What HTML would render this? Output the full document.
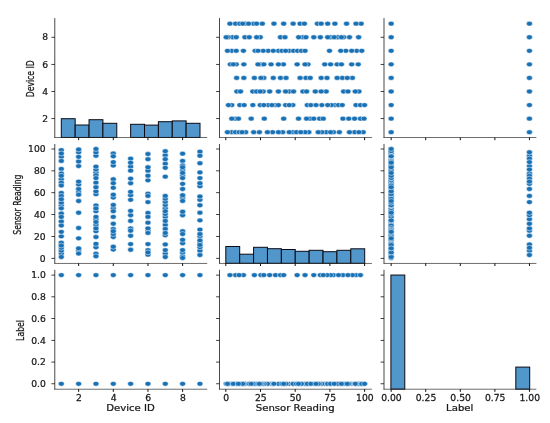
<!DOCTYPE html>
<html><head><meta charset="utf-8"><title>pairplot</title>
<style>html,body{margin:0;padding:0;background:#fff}svg{display:block}text{font-family:"DejaVu Sans","Liberation Sans",sans-serif}</style>
</head><body>
<svg width="550" height="423" viewBox="0 0 550 423">
<rect width="550" height="423" fill="#fff"/>
<g>
<rect x="61.30" y="118.70" width="13.87" height="18.75" fill="#5297cc" stroke="#0a0a14" stroke-width="1"/>
<rect x="75.17" y="125.00" width="13.87" height="12.45" fill="#5297cc" stroke="#0a0a14" stroke-width="1"/>
<rect x="89.04" y="119.70" width="13.87" height="17.75" fill="#5297cc" stroke="#0a0a14" stroke-width="1"/>
<rect x="102.91" y="123.30" width="13.87" height="14.15" fill="#5297cc" stroke="#0a0a14" stroke-width="1"/>
<rect x="130.65" y="124.30" width="13.87" height="13.15" fill="#5297cc" stroke="#0a0a14" stroke-width="1"/>
<rect x="144.52" y="125.10" width="13.87" height="12.35" fill="#5297cc" stroke="#0a0a14" stroke-width="1"/>
<rect x="158.39" y="121.70" width="13.87" height="15.75" fill="#5297cc" stroke="#0a0a14" stroke-width="1"/>
<rect x="172.26" y="120.90" width="13.87" height="16.55" fill="#5297cc" stroke="#0a0a14" stroke-width="1"/>
<rect x="186.13" y="123.30" width="13.87" height="14.15" fill="#5297cc" stroke="#0a0a14" stroke-width="1"/>
<rect x="54.38" y="18.10" width="0.85" height="119.69" fill="#2a2a2a"/>
<rect x="54.38" y="137.11" width="152.83" height="0.68" fill="#2a2a2a"/>
<rect x="78.13" y="137.45" width="1" height="2.7" fill="#111"/>
<rect x="112.79" y="137.45" width="1" height="2.7" fill="#111"/>
<rect x="147.45" y="137.45" width="1" height="2.7" fill="#111"/>
<rect x="182.11" y="137.45" width="1" height="2.7" fill="#111"/>
<rect x="51.40" y="118.23" width="3.4" height="0.8" fill="#111"/>
<rect x="51.40" y="91.10" width="3.4" height="0.8" fill="#111"/>
<rect x="51.40" y="63.96" width="3.4" height="0.8" fill="#111"/>
<rect x="51.40" y="36.83" width="3.4" height="0.8" fill="#111"/>
</g>
<g>
<ellipse cx="275.49" cy="105.07" rx="2.98" ry="2.42" fill="#1870b5" stroke="#fff" stroke-width="0.5"/>
<ellipse cx="289.23" cy="50.80" rx="2.98" ry="2.42" fill="#1870b5" stroke="#fff" stroke-width="0.5"/>
<ellipse cx="252.87" cy="91.50" rx="2.98" ry="2.42" fill="#1870b5" stroke="#fff" stroke-width="0.5"/>
<ellipse cx="351.69" cy="64.36" rx="2.98" ry="2.42" fill="#1870b5" stroke="#fff" stroke-width="0.5"/>
<ellipse cx="230.38" cy="64.36" rx="2.98" ry="2.42" fill="#1870b5" stroke="#fff" stroke-width="0.5"/>
<ellipse cx="363.21" cy="132.20" rx="2.98" ry="2.42" fill="#1870b5" stroke="#fff" stroke-width="0.5"/>
<ellipse cx="232.60" cy="37.23" rx="2.98" ry="2.42" fill="#1870b5" stroke="#fff" stroke-width="0.5"/>
<ellipse cx="302.97" cy="37.23" rx="2.98" ry="2.42" fill="#1870b5" stroke="#fff" stroke-width="0.5"/>
<ellipse cx="272.58" cy="132.20" rx="2.98" ry="2.42" fill="#1870b5" stroke="#fff" stroke-width="0.5"/>
<ellipse cx="326.15" cy="91.50" rx="2.98" ry="2.42" fill="#1870b5" stroke="#fff" stroke-width="0.5"/>
<ellipse cx="285.62" cy="105.07" rx="2.98" ry="2.42" fill="#1870b5" stroke="#fff" stroke-width="0.5"/>
<ellipse cx="268.13" cy="50.80" rx="2.98" ry="2.42" fill="#1870b5" stroke="#fff" stroke-width="0.5"/>
<ellipse cx="356.69" cy="50.80" rx="2.98" ry="2.42" fill="#1870b5" stroke="#fff" stroke-width="0.5"/>
<ellipse cx="253.70" cy="23.66" rx="2.98" ry="2.42" fill="#1870b5" stroke="#fff" stroke-width="0.5"/>
<ellipse cx="300.06" cy="23.66" rx="2.98" ry="2.42" fill="#1870b5" stroke="#fff" stroke-width="0.5"/>
<ellipse cx="337.12" cy="64.36" rx="2.98" ry="2.42" fill="#1870b5" stroke="#fff" stroke-width="0.5"/>
<ellipse cx="260.22" cy="37.23" rx="2.98" ry="2.42" fill="#1870b5" stroke="#fff" stroke-width="0.5"/>
<ellipse cx="293.53" cy="50.80" rx="2.98" ry="2.42" fill="#1870b5" stroke="#fff" stroke-width="0.5"/>
<ellipse cx="358.91" cy="91.50" rx="2.98" ry="2.42" fill="#1870b5" stroke="#fff" stroke-width="0.5"/>
<ellipse cx="302.97" cy="91.50" rx="2.98" ry="2.42" fill="#1870b5" stroke="#fff" stroke-width="0.5"/>
<ellipse cx="231.77" cy="132.20" rx="2.98" ry="2.42" fill="#1870b5" stroke="#fff" stroke-width="0.5"/>
<ellipse cx="358.22" cy="64.36" rx="2.98" ry="2.42" fill="#1870b5" stroke="#fff" stroke-width="0.5"/>
<ellipse cx="326.15" cy="132.20" rx="2.98" ry="2.42" fill="#1870b5" stroke="#fff" stroke-width="0.5"/>
<ellipse cx="354.61" cy="132.20" rx="2.98" ry="2.42" fill="#1870b5" stroke="#fff" stroke-width="0.5"/>
<ellipse cx="346.56" cy="23.66" rx="2.98" ry="2.42" fill="#1870b5" stroke="#fff" stroke-width="0.5"/>
<ellipse cx="243.84" cy="77.93" rx="2.98" ry="2.42" fill="#1870b5" stroke="#fff" stroke-width="0.5"/>
<ellipse cx="317.41" cy="23.66" rx="2.98" ry="2.42" fill="#1870b5" stroke="#fff" stroke-width="0.5"/>
<ellipse cx="243.43" cy="50.80" rx="2.98" ry="2.42" fill="#1870b5" stroke="#fff" stroke-width="0.5"/>
<ellipse cx="268.13" cy="105.07" rx="2.98" ry="2.42" fill="#1870b5" stroke="#fff" stroke-width="0.5"/>
<ellipse cx="306.58" cy="91.50" rx="2.98" ry="2.42" fill="#1870b5" stroke="#fff" stroke-width="0.5"/>
<ellipse cx="342.25" cy="77.93" rx="2.98" ry="2.42" fill="#1870b5" stroke="#fff" stroke-width="0.5"/>
<ellipse cx="345.86" cy="50.80" rx="2.98" ry="2.42" fill="#1870b5" stroke="#fff" stroke-width="0.5"/>
<ellipse cx="305.89" cy="77.93" rx="2.98" ry="2.42" fill="#1870b5" stroke="#fff" stroke-width="0.5"/>
<ellipse cx="315.33" cy="91.50" rx="2.98" ry="2.42" fill="#1870b5" stroke="#fff" stroke-width="0.5"/>
<ellipse cx="298.67" cy="37.23" rx="2.98" ry="2.42" fill="#1870b5" stroke="#fff" stroke-width="0.5"/>
<ellipse cx="260.92" cy="64.36" rx="2.98" ry="2.42" fill="#1870b5" stroke="#fff" stroke-width="0.5"/>
<ellipse cx="310.19" cy="77.93" rx="2.98" ry="2.42" fill="#1870b5" stroke="#fff" stroke-width="0.5"/>
<ellipse cx="228.16" cy="37.23" rx="2.98" ry="2.42" fill="#1870b5" stroke="#fff" stroke-width="0.5"/>
<ellipse cx="280.49" cy="37.23" rx="2.98" ry="2.42" fill="#1870b5" stroke="#fff" stroke-width="0.5"/>
<ellipse cx="321.16" cy="91.50" rx="2.98" ry="2.42" fill="#1870b5" stroke="#fff" stroke-width="0.5"/>
<ellipse cx="360.44" cy="118.63" rx="2.98" ry="2.42" fill="#1870b5" stroke="#fff" stroke-width="0.5"/>
<ellipse cx="289.23" cy="91.50" rx="2.98" ry="2.42" fill="#1870b5" stroke="#fff" stroke-width="0.5"/>
<ellipse cx="340.73" cy="50.80" rx="2.98" ry="2.42" fill="#1870b5" stroke="#fff" stroke-width="0.5"/>
<ellipse cx="339.34" cy="132.20" rx="2.98" ry="2.42" fill="#1870b5" stroke="#fff" stroke-width="0.5"/>
<ellipse cx="292.84" cy="105.07" rx="2.98" ry="2.42" fill="#1870b5" stroke="#fff" stroke-width="0.5"/>
<ellipse cx="342.95" cy="118.63" rx="2.98" ry="2.42" fill="#1870b5" stroke="#fff" stroke-width="0.5"/>
<ellipse cx="235.52" cy="23.66" rx="2.98" ry="2.42" fill="#1870b5" stroke="#fff" stroke-width="0.5"/>
<ellipse cx="361.13" cy="23.66" rx="2.98" ry="2.42" fill="#1870b5" stroke="#fff" stroke-width="0.5"/>
<ellipse cx="324.76" cy="64.36" rx="2.98" ry="2.42" fill="#1870b5" stroke="#fff" stroke-width="0.5"/>
<ellipse cx="260.22" cy="105.07" rx="2.98" ry="2.42" fill="#1870b5" stroke="#fff" stroke-width="0.5"/>
<ellipse cx="263.14" cy="50.80" rx="2.98" ry="2.42" fill="#1870b5" stroke="#fff" stroke-width="0.5"/>
<ellipse cx="254.39" cy="77.93" rx="2.98" ry="2.42" fill="#1870b5" stroke="#fff" stroke-width="0.5"/>
<ellipse cx="226.22" cy="37.23" rx="2.98" ry="2.42" fill="#1870b5" stroke="#fff" stroke-width="0.5"/>
<ellipse cx="321.85" cy="132.20" rx="2.98" ry="2.42" fill="#1870b5" stroke="#fff" stroke-width="0.5"/>
<ellipse cx="236.21" cy="64.36" rx="2.98" ry="2.42" fill="#1870b5" stroke="#fff" stroke-width="0.5"/>
<ellipse cx="307.97" cy="64.36" rx="2.98" ry="2.42" fill="#1870b5" stroke="#fff" stroke-width="0.5"/>
<ellipse cx="245.65" cy="132.20" rx="2.98" ry="2.42" fill="#1870b5" stroke="#fff" stroke-width="0.5"/>
<ellipse cx="256.61" cy="37.23" rx="2.98" ry="2.42" fill="#1870b5" stroke="#fff" stroke-width="0.5"/>
<ellipse cx="235.52" cy="118.63" rx="2.98" ry="2.42" fill="#1870b5" stroke="#fff" stroke-width="0.5"/>
<ellipse cx="289.23" cy="105.07" rx="2.98" ry="2.42" fill="#1870b5" stroke="#fff" stroke-width="0.5"/>
<ellipse cx="231.77" cy="50.80" rx="2.98" ry="2.42" fill="#1870b5" stroke="#fff" stroke-width="0.5"/>
<ellipse cx="231.77" cy="105.07" rx="2.98" ry="2.42" fill="#1870b5" stroke="#fff" stroke-width="0.5"/>
<ellipse cx="271.05" cy="64.36" rx="2.98" ry="2.42" fill="#1870b5" stroke="#fff" stroke-width="0.5"/>
<ellipse cx="334.90" cy="105.07" rx="2.98" ry="2.42" fill="#1870b5" stroke="#fff" stroke-width="0.5"/>
<ellipse cx="228.44" cy="105.07" rx="2.98" ry="2.42" fill="#1870b5" stroke="#fff" stroke-width="0.5"/>
<ellipse cx="280.49" cy="77.93" rx="2.98" ry="2.42" fill="#1870b5" stroke="#fff" stroke-width="0.5"/>
<ellipse cx="227.47" cy="132.20" rx="2.98" ry="2.42" fill="#1870b5" stroke="#fff" stroke-width="0.5"/>
<ellipse cx="282.71" cy="132.20" rx="2.98" ry="2.42" fill="#1870b5" stroke="#fff" stroke-width="0.5"/>
<ellipse cx="331.29" cy="105.07" rx="2.98" ry="2.42" fill="#1870b5" stroke="#fff" stroke-width="0.5"/>
<ellipse cx="297.56" cy="50.80" rx="2.98" ry="2.42" fill="#1870b5" stroke="#fff" stroke-width="0.5"/>
<ellipse cx="271.88" cy="105.07" rx="2.98" ry="2.42" fill="#1870b5" stroke="#fff" stroke-width="0.5"/>
<ellipse cx="239.82" cy="105.07" rx="2.98" ry="2.42" fill="#1870b5" stroke="#fff" stroke-width="0.5"/>
<ellipse cx="334.90" cy="23.66" rx="2.98" ry="2.42" fill="#1870b5" stroke="#fff" stroke-width="0.5"/>
<ellipse cx="236.21" cy="50.80" rx="2.98" ry="2.42" fill="#1870b5" stroke="#fff" stroke-width="0.5"/>
<ellipse cx="235.52" cy="132.20" rx="2.98" ry="2.42" fill="#1870b5" stroke="#fff" stroke-width="0.5"/>
<ellipse cx="358.63" cy="37.23" rx="2.98" ry="2.42" fill="#1870b5" stroke="#fff" stroke-width="0.5"/>
<ellipse cx="333.51" cy="132.20" rx="2.98" ry="2.42" fill="#1870b5" stroke="#fff" stroke-width="0.5"/>
<ellipse cx="278.41" cy="91.50" rx="2.98" ry="2.42" fill="#1870b5" stroke="#fff" stroke-width="0.5"/>
<ellipse cx="349.47" cy="132.20" rx="2.98" ry="2.42" fill="#1870b5" stroke="#fff" stroke-width="0.5"/>
<ellipse cx="308.80" cy="132.20" rx="2.98" ry="2.42" fill="#1870b5" stroke="#fff" stroke-width="0.5"/>
<ellipse cx="263.14" cy="91.50" rx="2.98" ry="2.42" fill="#1870b5" stroke="#fff" stroke-width="0.5"/>
<ellipse cx="292.84" cy="132.20" rx="2.98" ry="2.42" fill="#1870b5" stroke="#fff" stroke-width="0.5"/>
<ellipse cx="244.95" cy="37.23" rx="2.98" ry="2.42" fill="#1870b5" stroke="#fff" stroke-width="0.5"/>
<ellipse cx="263.83" cy="77.93" rx="2.98" ry="2.42" fill="#1870b5" stroke="#fff" stroke-width="0.5"/>
<ellipse cx="310.19" cy="118.63" rx="2.98" ry="2.42" fill="#1870b5" stroke="#fff" stroke-width="0.5"/>
<ellipse cx="283.40" cy="64.36" rx="2.98" ry="2.42" fill="#1870b5" stroke="#fff" stroke-width="0.5"/>
<ellipse cx="304.36" cy="23.66" rx="2.98" ry="2.42" fill="#1870b5" stroke="#fff" stroke-width="0.5"/>
<ellipse cx="355.99" cy="105.07" rx="2.98" ry="2.42" fill="#1870b5" stroke="#fff" stroke-width="0.5"/>
<ellipse cx="229.96" cy="23.66" rx="2.98" ry="2.42" fill="#1870b5" stroke="#fff" stroke-width="0.5"/>
<ellipse cx="337.81" cy="37.23" rx="2.98" ry="2.42" fill="#1870b5" stroke="#fff" stroke-width="0.5"/>
<ellipse cx="245.65" cy="23.66" rx="2.98" ry="2.42" fill="#1870b5" stroke="#fff" stroke-width="0.5"/>
<ellipse cx="284.93" cy="37.23" rx="2.98" ry="2.42" fill="#1870b5" stroke="#fff" stroke-width="0.5"/>
<ellipse cx="351.69" cy="50.80" rx="2.98" ry="2.42" fill="#1870b5" stroke="#fff" stroke-width="0.5"/>
<ellipse cx="320.32" cy="37.23" rx="2.98" ry="2.42" fill="#1870b5" stroke="#fff" stroke-width="0.5"/>
<ellipse cx="243.84" cy="64.36" rx="2.98" ry="2.42" fill="#1870b5" stroke="#fff" stroke-width="0.5"/>
<ellipse cx="349.47" cy="37.23" rx="2.98" ry="2.42" fill="#1870b5" stroke="#fff" stroke-width="0.5"/>
<ellipse cx="278.41" cy="64.36" rx="2.98" ry="2.42" fill="#1870b5" stroke="#fff" stroke-width="0.5"/>
<ellipse cx="273.27" cy="77.93" rx="2.98" ry="2.42" fill="#1870b5" stroke="#fff" stroke-width="0.5"/>
<ellipse cx="255.09" cy="50.80" rx="2.98" ry="2.42" fill="#1870b5" stroke="#fff" stroke-width="0.5"/>
<ellipse cx="236.90" cy="91.50" rx="2.98" ry="2.42" fill="#1870b5" stroke="#fff" stroke-width="0.5"/>
<ellipse cx="321.16" cy="77.93" rx="2.98" ry="2.42" fill="#1870b5" stroke="#fff" stroke-width="0.5"/>
<ellipse cx="305.05" cy="64.36" rx="2.98" ry="2.42" fill="#1870b5" stroke="#fff" stroke-width="0.5"/>
<ellipse cx="267.44" cy="132.20" rx="2.98" ry="2.42" fill="#1870b5" stroke="#fff" stroke-width="0.5"/>
<ellipse cx="248.56" cy="23.66" rx="2.98" ry="2.42" fill="#1870b5" stroke="#fff" stroke-width="0.5"/>
<ellipse cx="306.58" cy="118.63" rx="2.98" ry="2.42" fill="#1870b5" stroke="#fff" stroke-width="0.5"/>
<ellipse cx="278.41" cy="50.80" rx="2.98" ry="2.42" fill="#1870b5" stroke="#fff" stroke-width="0.5"/>
<ellipse cx="307.28" cy="105.07" rx="2.98" ry="2.42" fill="#1870b5" stroke="#fff" stroke-width="0.5"/>
<ellipse cx="252.87" cy="105.07" rx="2.98" ry="2.42" fill="#1870b5" stroke="#fff" stroke-width="0.5"/>
<ellipse cx="330.59" cy="37.23" rx="2.98" ry="2.42" fill="#1870b5" stroke="#fff" stroke-width="0.5"/>
<ellipse cx="239.82" cy="23.66" rx="2.98" ry="2.42" fill="#1870b5" stroke="#fff" stroke-width="0.5"/>
<ellipse cx="355.99" cy="23.66" rx="2.98" ry="2.42" fill="#1870b5" stroke="#fff" stroke-width="0.5"/>
<ellipse cx="273.27" cy="50.80" rx="2.98" ry="2.42" fill="#1870b5" stroke="#fff" stroke-width="0.5"/>
<ellipse cx="278.41" cy="132.20" rx="2.98" ry="2.42" fill="#1870b5" stroke="#fff" stroke-width="0.5"/>
<ellipse cx="352.39" cy="77.93" rx="2.98" ry="2.42" fill="#1870b5" stroke="#fff" stroke-width="0.5"/>
<ellipse cx="227.47" cy="50.80" rx="2.98" ry="2.42" fill="#1870b5" stroke="#fff" stroke-width="0.5"/>
<ellipse cx="293.12" cy="23.66" rx="2.98" ry="2.42" fill="#1870b5" stroke="#fff" stroke-width="0.5"/>
<ellipse cx="343.64" cy="91.50" rx="2.98" ry="2.42" fill="#1870b5" stroke="#fff" stroke-width="0.5"/>
<ellipse cx="338.51" cy="105.07" rx="2.98" ry="2.42" fill="#1870b5" stroke="#fff" stroke-width="0.5"/>
<ellipse cx="264.25" cy="118.63" rx="2.98" ry="2.42" fill="#1870b5" stroke="#fff" stroke-width="0.5"/>
<ellipse cx="329.48" cy="50.80" rx="2.98" ry="2.42" fill="#1870b5" stroke="#fff" stroke-width="0.5"/>
<ellipse cx="262.30" cy="23.66" rx="2.98" ry="2.42" fill="#1870b5" stroke="#fff" stroke-width="0.5"/>
<ellipse cx="321.16" cy="23.66" rx="2.98" ry="2.42" fill="#1870b5" stroke="#fff" stroke-width="0.5"/>
<ellipse cx="327.68" cy="37.23" rx="2.98" ry="2.42" fill="#1870b5" stroke="#fff" stroke-width="0.5"/>
<ellipse cx="342.25" cy="105.07" rx="2.98" ry="2.42" fill="#1870b5" stroke="#fff" stroke-width="0.5"/>
<ellipse cx="263.83" cy="64.36" rx="2.98" ry="2.42" fill="#1870b5" stroke="#fff" stroke-width="0.5"/>
<ellipse cx="256.61" cy="91.50" rx="2.98" ry="2.42" fill="#1870b5" stroke="#fff" stroke-width="0.5"/>
<ellipse cx="330.59" cy="64.36" rx="2.98" ry="2.42" fill="#1870b5" stroke="#fff" stroke-width="0.5"/>
<ellipse cx="282.01" cy="50.80" rx="2.98" ry="2.42" fill="#1870b5" stroke="#fff" stroke-width="0.5"/>
<ellipse cx="249.26" cy="37.23" rx="2.98" ry="2.42" fill="#1870b5" stroke="#fff" stroke-width="0.5"/>
<ellipse cx="341.42" cy="64.36" rx="2.98" ry="2.42" fill="#1870b5" stroke="#fff" stroke-width="0.5"/>
<ellipse cx="343.64" cy="37.23" rx="2.98" ry="2.42" fill="#1870b5" stroke="#fff" stroke-width="0.5"/>
<ellipse cx="258.00" cy="64.36" rx="2.98" ry="2.42" fill="#1870b5" stroke="#fff" stroke-width="0.5"/>
<ellipse cx="313.80" cy="118.63" rx="2.98" ry="2.42" fill="#1870b5" stroke="#fff" stroke-width="0.5"/>
<ellipse cx="236.63" cy="77.93" rx="2.98" ry="2.42" fill="#1870b5" stroke="#fff" stroke-width="0.5"/>
<ellipse cx="239.12" cy="132.20" rx="2.98" ry="2.42" fill="#1870b5" stroke="#fff" stroke-width="0.5"/>
<ellipse cx="240.51" cy="91.50" rx="2.98" ry="2.42" fill="#1870b5" stroke="#fff" stroke-width="0.5"/>
<ellipse cx="260.92" cy="77.93" rx="2.98" ry="2.42" fill="#1870b5" stroke="#fff" stroke-width="0.5"/>
<ellipse cx="326.99" cy="77.93" rx="2.98" ry="2.42" fill="#1870b5" stroke="#fff" stroke-width="0.5"/>
<ellipse cx="263.83" cy="105.07" rx="2.98" ry="2.42" fill="#1870b5" stroke="#fff" stroke-width="0.5"/>
<ellipse cx="260.22" cy="91.50" rx="2.98" ry="2.42" fill="#1870b5" stroke="#fff" stroke-width="0.5"/>
<ellipse cx="319.63" cy="118.63" rx="2.98" ry="2.42" fill="#1870b5" stroke="#fff" stroke-width="0.5"/>
<ellipse cx="285.62" cy="91.50" rx="2.98" ry="2.42" fill="#1870b5" stroke="#fff" stroke-width="0.5"/>
<ellipse cx="296.45" cy="132.20" rx="2.98" ry="2.42" fill="#1870b5" stroke="#fff" stroke-width="0.5"/>
<ellipse cx="285.62" cy="50.80" rx="2.98" ry="2.42" fill="#1870b5" stroke="#fff" stroke-width="0.5"/>
<ellipse cx="244.12" cy="105.07" rx="2.98" ry="2.42" fill="#1870b5" stroke="#fff" stroke-width="0.5"/>
<ellipse cx="231.77" cy="118.63" rx="2.98" ry="2.42" fill="#1870b5" stroke="#fff" stroke-width="0.5"/>
<ellipse cx="273.96" cy="23.66" rx="2.98" ry="2.42" fill="#1870b5" stroke="#fff" stroke-width="0.5"/>
<ellipse cx="236.21" cy="37.23" rx="2.98" ry="2.42" fill="#1870b5" stroke="#fff" stroke-width="0.5"/>
<ellipse cx="286.04" cy="77.93" rx="2.98" ry="2.42" fill="#1870b5" stroke="#fff" stroke-width="0.5"/>
<ellipse cx="313.80" cy="37.23" rx="2.98" ry="2.42" fill="#1870b5" stroke="#fff" stroke-width="0.5"/>
<ellipse cx="293.53" cy="91.50" rx="2.98" ry="2.42" fill="#1870b5" stroke="#fff" stroke-width="0.5"/>
<ellipse cx="360.44" cy="105.07" rx="2.98" ry="2.42" fill="#1870b5" stroke="#fff" stroke-width="0.5"/>
<ellipse cx="253.70" cy="132.20" rx="2.98" ry="2.42" fill="#1870b5" stroke="#fff" stroke-width="0.5"/>
<ellipse cx="269.66" cy="91.50" rx="2.98" ry="2.42" fill="#1870b5" stroke="#fff" stroke-width="0.5"/>
<ellipse cx="364.04" cy="118.63" rx="2.98" ry="2.42" fill="#1870b5" stroke="#fff" stroke-width="0.5"/>
<ellipse cx="251.20" cy="118.63" rx="2.98" ry="2.42" fill="#1870b5" stroke="#fff" stroke-width="0.5"/>
<ellipse cx="259.39" cy="132.20" rx="2.98" ry="2.42" fill="#1870b5" stroke="#fff" stroke-width="0.5"/>
<ellipse cx="233.30" cy="64.36" rx="2.98" ry="2.42" fill="#1870b5" stroke="#fff" stroke-width="0.5"/>
<ellipse cx="256.61" cy="23.66" rx="2.98" ry="2.42" fill="#1870b5" stroke="#fff" stroke-width="0.5"/>
<ellipse cx="297.14" cy="64.36" rx="2.98" ry="2.42" fill="#1870b5" stroke="#fff" stroke-width="0.5"/>
<ellipse cx="283.68" cy="23.66" rx="2.98" ry="2.42" fill="#1870b5" stroke="#fff" stroke-width="0.5"/>
<ellipse cx="358.91" cy="132.20" rx="2.98" ry="2.42" fill="#1870b5" stroke="#fff" stroke-width="0.5"/>
<ellipse cx="341.42" cy="37.23" rx="2.98" ry="2.42" fill="#1870b5" stroke="#fff" stroke-width="0.5"/>
<ellipse cx="318.24" cy="132.20" rx="2.98" ry="2.42" fill="#1870b5" stroke="#fff" stroke-width="0.5"/>
<ellipse cx="305.05" cy="132.20" rx="2.98" ry="2.42" fill="#1870b5" stroke="#fff" stroke-width="0.5"/>
<ellipse cx="337.12" cy="77.93" rx="2.98" ry="2.42" fill="#1870b5" stroke="#fff" stroke-width="0.5"/>
<ellipse cx="278.41" cy="105.07" rx="2.98" ry="2.42" fill="#1870b5" stroke="#fff" stroke-width="0.5"/>
<ellipse cx="242.04" cy="132.20" rx="2.98" ry="2.42" fill="#1870b5" stroke="#fff" stroke-width="0.5"/>
<ellipse cx="348.78" cy="118.63" rx="2.98" ry="2.42" fill="#1870b5" stroke="#fff" stroke-width="0.5"/>
<ellipse cx="289.23" cy="132.20" rx="2.98" ry="2.42" fill="#1870b5" stroke="#fff" stroke-width="0.5"/>
<ellipse cx="334.20" cy="37.23" rx="2.98" ry="2.42" fill="#1870b5" stroke="#fff" stroke-width="0.5"/>
<ellipse cx="354.61" cy="118.63" rx="2.98" ry="2.42" fill="#1870b5" stroke="#fff" stroke-width="0.5"/>
<ellipse cx="347.25" cy="77.93" rx="2.98" ry="2.42" fill="#1870b5" stroke="#fff" stroke-width="0.5"/>
<ellipse cx="330.59" cy="132.20" rx="2.98" ry="2.42" fill="#1870b5" stroke="#fff" stroke-width="0.5"/>
<ellipse cx="321.85" cy="105.07" rx="2.98" ry="2.42" fill="#1870b5" stroke="#fff" stroke-width="0.5"/>
<ellipse cx="310.88" cy="105.07" rx="2.98" ry="2.42" fill="#1870b5" stroke="#fff" stroke-width="0.5"/>
<ellipse cx="300.75" cy="132.20" rx="2.98" ry="2.42" fill="#1870b5" stroke="#fff" stroke-width="0.5"/>
<ellipse cx="258.00" cy="50.80" rx="2.98" ry="2.42" fill="#1870b5" stroke="#fff" stroke-width="0.5"/>
<ellipse cx="301.45" cy="50.80" rx="2.98" ry="2.42" fill="#1870b5" stroke="#fff" stroke-width="0.5"/>
<ellipse cx="327.68" cy="105.07" rx="2.98" ry="2.42" fill="#1870b5" stroke="#fff" stroke-width="0.5"/>
<ellipse cx="361.82" cy="50.80" rx="2.98" ry="2.42" fill="#1870b5" stroke="#fff" stroke-width="0.5"/>
<ellipse cx="347.94" cy="91.50" rx="2.98" ry="2.42" fill="#1870b5" stroke="#fff" stroke-width="0.5"/>
<ellipse cx="242.73" cy="23.66" rx="2.98" ry="2.42" fill="#1870b5" stroke="#fff" stroke-width="0.5"/>
<ellipse cx="298.53" cy="118.63" rx="2.98" ry="2.42" fill="#1870b5" stroke="#fff" stroke-width="0.5"/>
<ellipse cx="327.68" cy="23.66" rx="2.98" ry="2.42" fill="#1870b5" stroke="#fff" stroke-width="0.5"/>
<ellipse cx="364.60" cy="105.07" rx="2.98" ry="2.42" fill="#1870b5" stroke="#fff" stroke-width="0.5"/>
<ellipse cx="323.24" cy="118.63" rx="2.98" ry="2.42" fill="#1870b5" stroke="#fff" stroke-width="0.5"/>
<ellipse cx="355.30" cy="91.50" rx="2.98" ry="2.42" fill="#1870b5" stroke="#fff" stroke-width="0.5"/>
<ellipse cx="283.68" cy="118.63" rx="2.98" ry="2.42" fill="#1870b5" stroke="#fff" stroke-width="0.5"/>
<ellipse cx="300.06" cy="77.93" rx="2.98" ry="2.42" fill="#1870b5" stroke="#fff" stroke-width="0.5"/>
<ellipse cx="305.89" cy="37.23" rx="2.98" ry="2.42" fill="#1870b5" stroke="#fff" stroke-width="0.5"/>
<ellipse cx="316.02" cy="105.07" rx="2.98" ry="2.42" fill="#1870b5" stroke="#fff" stroke-width="0.5"/>
<ellipse cx="238.43" cy="118.63" rx="2.98" ry="2.42" fill="#1870b5" stroke="#fff" stroke-width="0.5"/>
<ellipse cx="305.05" cy="50.80" rx="2.98" ry="2.42" fill="#1870b5" stroke="#fff" stroke-width="0.5"/>
<rect x="219.07" y="18.10" width="0.85" height="119.69" fill="#2a2a2a"/>
<rect x="219.07" y="137.11" width="152.83" height="0.68" fill="#2a2a2a"/>
<rect x="225.30" y="137.45" width="1" height="2.7" fill="#111"/>
<rect x="260.00" y="137.45" width="1" height="2.7" fill="#111"/>
<rect x="294.70" y="137.45" width="1" height="2.7" fill="#111"/>
<rect x="329.40" y="137.45" width="1" height="2.7" fill="#111"/>
<rect x="364.10" y="137.45" width="1" height="2.7" fill="#111"/>
<rect x="216.10" y="118.23" width="3.4" height="0.8" fill="#111"/>
<rect x="216.10" y="91.10" width="3.4" height="0.8" fill="#111"/>
<rect x="216.10" y="63.96" width="3.4" height="0.8" fill="#111"/>
<rect x="216.10" y="36.83" width="3.4" height="0.8" fill="#111"/>
</g>
<g>
<ellipse cx="529.45" cy="105.07" rx="2.98" ry="2.42" fill="#1870b5" stroke="#fff" stroke-width="0.5"/>
<ellipse cx="391.15" cy="50.80" rx="2.98" ry="2.42" fill="#1870b5" stroke="#fff" stroke-width="0.5"/>
<ellipse cx="391.15" cy="91.50" rx="2.98" ry="2.42" fill="#1870b5" stroke="#fff" stroke-width="0.5"/>
<ellipse cx="391.15" cy="64.36" rx="2.98" ry="2.42" fill="#1870b5" stroke="#fff" stroke-width="0.5"/>
<ellipse cx="391.15" cy="132.20" rx="2.98" ry="2.42" fill="#1870b5" stroke="#fff" stroke-width="0.5"/>
<ellipse cx="391.15" cy="37.23" rx="2.98" ry="2.42" fill="#1870b5" stroke="#fff" stroke-width="0.5"/>
<ellipse cx="391.15" cy="105.07" rx="2.98" ry="2.42" fill="#1870b5" stroke="#fff" stroke-width="0.5"/>
<ellipse cx="391.15" cy="23.66" rx="2.98" ry="2.42" fill="#1870b5" stroke="#fff" stroke-width="0.5"/>
<ellipse cx="391.15" cy="77.93" rx="2.98" ry="2.42" fill="#1870b5" stroke="#fff" stroke-width="0.5"/>
<ellipse cx="529.45" cy="50.80" rx="2.98" ry="2.42" fill="#1870b5" stroke="#fff" stroke-width="0.5"/>
<ellipse cx="529.45" cy="64.36" rx="2.98" ry="2.42" fill="#1870b5" stroke="#fff" stroke-width="0.5"/>
<ellipse cx="529.45" cy="37.23" rx="2.98" ry="2.42" fill="#1870b5" stroke="#fff" stroke-width="0.5"/>
<ellipse cx="391.15" cy="118.63" rx="2.98" ry="2.42" fill="#1870b5" stroke="#fff" stroke-width="0.5"/>
<ellipse cx="529.45" cy="118.63" rx="2.98" ry="2.42" fill="#1870b5" stroke="#fff" stroke-width="0.5"/>
<ellipse cx="529.45" cy="77.93" rx="2.98" ry="2.42" fill="#1870b5" stroke="#fff" stroke-width="0.5"/>
<ellipse cx="529.45" cy="132.20" rx="2.98" ry="2.42" fill="#1870b5" stroke="#fff" stroke-width="0.5"/>
<ellipse cx="529.45" cy="23.66" rx="2.98" ry="2.42" fill="#1870b5" stroke="#fff" stroke-width="0.5"/>
<ellipse cx="529.45" cy="91.50" rx="2.98" ry="2.42" fill="#1870b5" stroke="#fff" stroke-width="0.5"/>
<rect x="383.57" y="18.10" width="0.85" height="119.69" fill="#2a2a2a"/>
<rect x="383.57" y="137.11" width="152.83" height="0.68" fill="#2a2a2a"/>
<rect x="390.65" y="137.45" width="1" height="2.7" fill="#111"/>
<rect x="425.22" y="137.45" width="1" height="2.7" fill="#111"/>
<rect x="459.80" y="137.45" width="1" height="2.7" fill="#111"/>
<rect x="494.38" y="137.45" width="1" height="2.7" fill="#111"/>
<rect x="528.95" y="137.45" width="1" height="2.7" fill="#111"/>
<rect x="380.60" y="118.23" width="3.4" height="0.8" fill="#111"/>
<rect x="380.60" y="91.10" width="3.4" height="0.8" fill="#111"/>
<rect x="380.60" y="63.96" width="3.4" height="0.8" fill="#111"/>
<rect x="380.60" y="36.83" width="3.4" height="0.8" fill="#111"/>
</g>
<g>
<ellipse cx="95.96" cy="219.17" rx="2.98" ry="2.42" fill="#1870b5" stroke="#fff" stroke-width="0.5"/>
<ellipse cx="165.28" cy="208.35" rx="2.98" ry="2.42" fill="#1870b5" stroke="#fff" stroke-width="0.5"/>
<ellipse cx="113.29" cy="236.99" rx="2.98" ry="2.42" fill="#1870b5" stroke="#fff" stroke-width="0.5"/>
<ellipse cx="147.95" cy="159.16" rx="2.98" ry="2.42" fill="#1870b5" stroke="#fff" stroke-width="0.5"/>
<ellipse cx="147.95" cy="254.69" rx="2.98" ry="2.42" fill="#1870b5" stroke="#fff" stroke-width="0.5"/>
<ellipse cx="61.30" cy="150.09" rx="2.98" ry="2.42" fill="#1870b5" stroke="#fff" stroke-width="0.5"/>
<ellipse cx="182.61" cy="252.94" rx="2.98" ry="2.42" fill="#1870b5" stroke="#fff" stroke-width="0.5"/>
<ellipse cx="182.61" cy="197.53" rx="2.98" ry="2.42" fill="#1870b5" stroke="#fff" stroke-width="0.5"/>
<ellipse cx="61.30" cy="221.47" rx="2.98" ry="2.42" fill="#1870b5" stroke="#fff" stroke-width="0.5"/>
<ellipse cx="113.29" cy="179.28" rx="2.98" ry="2.42" fill="#1870b5" stroke="#fff" stroke-width="0.5"/>
<ellipse cx="95.96" cy="211.19" rx="2.98" ry="2.42" fill="#1870b5" stroke="#fff" stroke-width="0.5"/>
<ellipse cx="165.28" cy="224.96" rx="2.98" ry="2.42" fill="#1870b5" stroke="#fff" stroke-width="0.5"/>
<ellipse cx="165.28" cy="155.23" rx="2.98" ry="2.42" fill="#1870b5" stroke="#fff" stroke-width="0.5"/>
<ellipse cx="199.94" cy="236.33" rx="2.98" ry="2.42" fill="#1870b5" stroke="#fff" stroke-width="0.5"/>
<ellipse cx="199.94" cy="199.82" rx="2.98" ry="2.42" fill="#1870b5" stroke="#fff" stroke-width="0.5"/>
<ellipse cx="147.95" cy="170.64" rx="2.98" ry="2.42" fill="#1870b5" stroke="#fff" stroke-width="0.5"/>
<ellipse cx="182.61" cy="231.19" rx="2.98" ry="2.42" fill="#1870b5" stroke="#fff" stroke-width="0.5"/>
<ellipse cx="165.28" cy="204.96" rx="2.98" ry="2.42" fill="#1870b5" stroke="#fff" stroke-width="0.5"/>
<ellipse cx="113.29" cy="153.48" rx="2.98" ry="2.42" fill="#1870b5" stroke="#fff" stroke-width="0.5"/>
<ellipse cx="113.29" cy="197.53" rx="2.98" ry="2.42" fill="#1870b5" stroke="#fff" stroke-width="0.5"/>
<ellipse cx="61.30" cy="253.60" rx="2.98" ry="2.42" fill="#1870b5" stroke="#fff" stroke-width="0.5"/>
<ellipse cx="147.95" cy="154.03" rx="2.98" ry="2.42" fill="#1870b5" stroke="#fff" stroke-width="0.5"/>
<ellipse cx="61.30" cy="179.28" rx="2.98" ry="2.42" fill="#1870b5" stroke="#fff" stroke-width="0.5"/>
<ellipse cx="61.30" cy="156.87" rx="2.98" ry="2.42" fill="#1870b5" stroke="#fff" stroke-width="0.5"/>
<ellipse cx="199.94" cy="163.21" rx="2.98" ry="2.42" fill="#1870b5" stroke="#fff" stroke-width="0.5"/>
<ellipse cx="130.62" cy="244.09" rx="2.98" ry="2.42" fill="#1870b5" stroke="#fff" stroke-width="0.5"/>
<ellipse cx="199.94" cy="186.16" rx="2.98" ry="2.42" fill="#1870b5" stroke="#fff" stroke-width="0.5"/>
<ellipse cx="165.28" cy="244.42" rx="2.98" ry="2.42" fill="#1870b5" stroke="#fff" stroke-width="0.5"/>
<ellipse cx="95.96" cy="224.96" rx="2.98" ry="2.42" fill="#1870b5" stroke="#fff" stroke-width="0.5"/>
<ellipse cx="113.29" cy="194.69" rx="2.98" ry="2.42" fill="#1870b5" stroke="#fff" stroke-width="0.5"/>
<ellipse cx="130.62" cy="166.60" rx="2.98" ry="2.42" fill="#1870b5" stroke="#fff" stroke-width="0.5"/>
<ellipse cx="165.28" cy="163.76" rx="2.98" ry="2.42" fill="#1870b5" stroke="#fff" stroke-width="0.5"/>
<ellipse cx="130.62" cy="195.23" rx="2.98" ry="2.42" fill="#1870b5" stroke="#fff" stroke-width="0.5"/>
<ellipse cx="113.29" cy="187.80" rx="2.98" ry="2.42" fill="#1870b5" stroke="#fff" stroke-width="0.5"/>
<ellipse cx="182.61" cy="200.92" rx="2.98" ry="2.42" fill="#1870b5" stroke="#fff" stroke-width="0.5"/>
<ellipse cx="147.95" cy="230.65" rx="2.98" ry="2.42" fill="#1870b5" stroke="#fff" stroke-width="0.5"/>
<ellipse cx="130.62" cy="191.85" rx="2.98" ry="2.42" fill="#1870b5" stroke="#fff" stroke-width="0.5"/>
<ellipse cx="182.61" cy="256.44" rx="2.98" ry="2.42" fill="#1870b5" stroke="#fff" stroke-width="0.5"/>
<ellipse cx="182.61" cy="215.24" rx="2.98" ry="2.42" fill="#1870b5" stroke="#fff" stroke-width="0.5"/>
<ellipse cx="113.29" cy="183.21" rx="2.98" ry="2.42" fill="#1870b5" stroke="#fff" stroke-width="0.5"/>
<ellipse cx="78.63" cy="152.28" rx="2.98" ry="2.42" fill="#1870b5" stroke="#fff" stroke-width="0.5"/>
<ellipse cx="113.29" cy="208.35" rx="2.98" ry="2.42" fill="#1870b5" stroke="#fff" stroke-width="0.5"/>
<ellipse cx="165.28" cy="167.80" rx="2.98" ry="2.42" fill="#1870b5" stroke="#fff" stroke-width="0.5"/>
<ellipse cx="61.30" cy="168.89" rx="2.98" ry="2.42" fill="#1870b5" stroke="#fff" stroke-width="0.5"/>
<ellipse cx="95.96" cy="205.51" rx="2.98" ry="2.42" fill="#1870b5" stroke="#fff" stroke-width="0.5"/>
<ellipse cx="78.63" cy="166.05" rx="2.98" ry="2.42" fill="#1870b5" stroke="#fff" stroke-width="0.5"/>
<ellipse cx="199.94" cy="250.65" rx="2.98" ry="2.42" fill="#1870b5" stroke="#fff" stroke-width="0.5"/>
<ellipse cx="199.94" cy="151.73" rx="2.98" ry="2.42" fill="#1870b5" stroke="#fff" stroke-width="0.5"/>
<ellipse cx="147.95" cy="180.37" rx="2.98" ry="2.42" fill="#1870b5" stroke="#fff" stroke-width="0.5"/>
<ellipse cx="95.96" cy="231.19" rx="2.98" ry="2.42" fill="#1870b5" stroke="#fff" stroke-width="0.5"/>
<ellipse cx="165.28" cy="228.90" rx="2.98" ry="2.42" fill="#1870b5" stroke="#fff" stroke-width="0.5"/>
<ellipse cx="130.62" cy="235.78" rx="2.98" ry="2.42" fill="#1870b5" stroke="#fff" stroke-width="0.5"/>
<ellipse cx="182.61" cy="257.97" rx="2.98" ry="2.42" fill="#1870b5" stroke="#fff" stroke-width="0.5"/>
<ellipse cx="61.30" cy="182.66" rx="2.98" ry="2.42" fill="#1870b5" stroke="#fff" stroke-width="0.5"/>
<ellipse cx="147.95" cy="250.10" rx="2.98" ry="2.42" fill="#1870b5" stroke="#fff" stroke-width="0.5"/>
<ellipse cx="147.95" cy="193.59" rx="2.98" ry="2.42" fill="#1870b5" stroke="#fff" stroke-width="0.5"/>
<ellipse cx="61.30" cy="242.67" rx="2.98" ry="2.42" fill="#1870b5" stroke="#fff" stroke-width="0.5"/>
<ellipse cx="182.61" cy="234.04" rx="2.98" ry="2.42" fill="#1870b5" stroke="#fff" stroke-width="0.5"/>
<ellipse cx="78.63" cy="250.65" rx="2.98" ry="2.42" fill="#1870b5" stroke="#fff" stroke-width="0.5"/>
<ellipse cx="95.96" cy="208.35" rx="2.98" ry="2.42" fill="#1870b5" stroke="#fff" stroke-width="0.5"/>
<ellipse cx="165.28" cy="253.60" rx="2.98" ry="2.42" fill="#1870b5" stroke="#fff" stroke-width="0.5"/>
<ellipse cx="95.96" cy="253.60" rx="2.98" ry="2.42" fill="#1870b5" stroke="#fff" stroke-width="0.5"/>
<ellipse cx="147.95" cy="222.67" rx="2.98" ry="2.42" fill="#1870b5" stroke="#fff" stroke-width="0.5"/>
<ellipse cx="95.96" cy="172.39" rx="2.98" ry="2.42" fill="#1870b5" stroke="#fff" stroke-width="0.5"/>
<ellipse cx="95.96" cy="256.22" rx="2.98" ry="2.42" fill="#1870b5" stroke="#fff" stroke-width="0.5"/>
<ellipse cx="130.62" cy="215.24" rx="2.98" ry="2.42" fill="#1870b5" stroke="#fff" stroke-width="0.5"/>
<ellipse cx="61.30" cy="256.99" rx="2.98" ry="2.42" fill="#1870b5" stroke="#fff" stroke-width="0.5"/>
<ellipse cx="61.30" cy="213.49" rx="2.98" ry="2.42" fill="#1870b5" stroke="#fff" stroke-width="0.5"/>
<ellipse cx="95.96" cy="175.23" rx="2.98" ry="2.42" fill="#1870b5" stroke="#fff" stroke-width="0.5"/>
<ellipse cx="165.28" cy="201.79" rx="2.98" ry="2.42" fill="#1870b5" stroke="#fff" stroke-width="0.5"/>
<ellipse cx="95.96" cy="222.01" rx="2.98" ry="2.42" fill="#1870b5" stroke="#fff" stroke-width="0.5"/>
<ellipse cx="95.96" cy="247.26" rx="2.98" ry="2.42" fill="#1870b5" stroke="#fff" stroke-width="0.5"/>
<ellipse cx="199.94" cy="172.39" rx="2.98" ry="2.42" fill="#1870b5" stroke="#fff" stroke-width="0.5"/>
<ellipse cx="165.28" cy="250.10" rx="2.98" ry="2.42" fill="#1870b5" stroke="#fff" stroke-width="0.5"/>
<ellipse cx="61.30" cy="250.65" rx="2.98" ry="2.42" fill="#1870b5" stroke="#fff" stroke-width="0.5"/>
<ellipse cx="182.61" cy="153.70" rx="2.98" ry="2.42" fill="#1870b5" stroke="#fff" stroke-width="0.5"/>
<ellipse cx="61.30" cy="173.48" rx="2.98" ry="2.42" fill="#1870b5" stroke="#fff" stroke-width="0.5"/>
<ellipse cx="113.29" cy="216.88" rx="2.98" ry="2.42" fill="#1870b5" stroke="#fff" stroke-width="0.5"/>
<ellipse cx="61.30" cy="160.91" rx="2.98" ry="2.42" fill="#1870b5" stroke="#fff" stroke-width="0.5"/>
<ellipse cx="61.30" cy="192.94" rx="2.98" ry="2.42" fill="#1870b5" stroke="#fff" stroke-width="0.5"/>
<ellipse cx="113.29" cy="228.90" rx="2.98" ry="2.42" fill="#1870b5" stroke="#fff" stroke-width="0.5"/>
<ellipse cx="61.30" cy="205.51" rx="2.98" ry="2.42" fill="#1870b5" stroke="#fff" stroke-width="0.5"/>
<ellipse cx="182.61" cy="243.22" rx="2.98" ry="2.42" fill="#1870b5" stroke="#fff" stroke-width="0.5"/>
<ellipse cx="130.62" cy="228.35" rx="2.98" ry="2.42" fill="#1870b5" stroke="#fff" stroke-width="0.5"/>
<ellipse cx="78.63" cy="191.85" rx="2.98" ry="2.42" fill="#1870b5" stroke="#fff" stroke-width="0.5"/>
<ellipse cx="147.95" cy="212.94" rx="2.98" ry="2.42" fill="#1870b5" stroke="#fff" stroke-width="0.5"/>
<ellipse cx="199.94" cy="196.44" rx="2.98" ry="2.42" fill="#1870b5" stroke="#fff" stroke-width="0.5"/>
<ellipse cx="95.96" cy="155.78" rx="2.98" ry="2.42" fill="#1870b5" stroke="#fff" stroke-width="0.5"/>
<ellipse cx="199.94" cy="255.02" rx="2.98" ry="2.42" fill="#1870b5" stroke="#fff" stroke-width="0.5"/>
<ellipse cx="182.61" cy="170.09" rx="2.98" ry="2.42" fill="#1870b5" stroke="#fff" stroke-width="0.5"/>
<ellipse cx="199.94" cy="242.67" rx="2.98" ry="2.42" fill="#1870b5" stroke="#fff" stroke-width="0.5"/>
<ellipse cx="182.61" cy="211.74" rx="2.98" ry="2.42" fill="#1870b5" stroke="#fff" stroke-width="0.5"/>
<ellipse cx="165.28" cy="159.16" rx="2.98" ry="2.42" fill="#1870b5" stroke="#fff" stroke-width="0.5"/>
<ellipse cx="182.61" cy="183.87" rx="2.98" ry="2.42" fill="#1870b5" stroke="#fff" stroke-width="0.5"/>
<ellipse cx="147.95" cy="244.09" rx="2.98" ry="2.42" fill="#1870b5" stroke="#fff" stroke-width="0.5"/>
<ellipse cx="182.61" cy="160.91" rx="2.98" ry="2.42" fill="#1870b5" stroke="#fff" stroke-width="0.5"/>
<ellipse cx="147.95" cy="216.88" rx="2.98" ry="2.42" fill="#1870b5" stroke="#fff" stroke-width="0.5"/>
<ellipse cx="130.62" cy="220.92" rx="2.98" ry="2.42" fill="#1870b5" stroke="#fff" stroke-width="0.5"/>
<ellipse cx="165.28" cy="235.24" rx="2.98" ry="2.42" fill="#1870b5" stroke="#fff" stroke-width="0.5"/>
<ellipse cx="113.29" cy="249.56" rx="2.98" ry="2.42" fill="#1870b5" stroke="#fff" stroke-width="0.5"/>
<ellipse cx="130.62" cy="183.21" rx="2.98" ry="2.42" fill="#1870b5" stroke="#fff" stroke-width="0.5"/>
<ellipse cx="147.95" cy="195.89" rx="2.98" ry="2.42" fill="#1870b5" stroke="#fff" stroke-width="0.5"/>
<ellipse cx="61.30" cy="225.51" rx="2.98" ry="2.42" fill="#1870b5" stroke="#fff" stroke-width="0.5"/>
<ellipse cx="199.94" cy="240.37" rx="2.98" ry="2.42" fill="#1870b5" stroke="#fff" stroke-width="0.5"/>
<ellipse cx="78.63" cy="194.69" rx="2.98" ry="2.42" fill="#1870b5" stroke="#fff" stroke-width="0.5"/>
<ellipse cx="165.28" cy="216.88" rx="2.98" ry="2.42" fill="#1870b5" stroke="#fff" stroke-width="0.5"/>
<ellipse cx="95.96" cy="194.14" rx="2.98" ry="2.42" fill="#1870b5" stroke="#fff" stroke-width="0.5"/>
<ellipse cx="95.96" cy="236.99" rx="2.98" ry="2.42" fill="#1870b5" stroke="#fff" stroke-width="0.5"/>
<ellipse cx="182.61" cy="175.78" rx="2.98" ry="2.42" fill="#1870b5" stroke="#fff" stroke-width="0.5"/>
<ellipse cx="199.94" cy="247.26" rx="2.98" ry="2.42" fill="#1870b5" stroke="#fff" stroke-width="0.5"/>
<ellipse cx="199.94" cy="155.78" rx="2.98" ry="2.42" fill="#1870b5" stroke="#fff" stroke-width="0.5"/>
<ellipse cx="165.28" cy="220.92" rx="2.98" ry="2.42" fill="#1870b5" stroke="#fff" stroke-width="0.5"/>
<ellipse cx="61.30" cy="216.88" rx="2.98" ry="2.42" fill="#1870b5" stroke="#fff" stroke-width="0.5"/>
<ellipse cx="130.62" cy="158.62" rx="2.98" ry="2.42" fill="#1870b5" stroke="#fff" stroke-width="0.5"/>
<ellipse cx="165.28" cy="256.99" rx="2.98" ry="2.42" fill="#1870b5" stroke="#fff" stroke-width="0.5"/>
<ellipse cx="199.94" cy="205.29" rx="2.98" ry="2.42" fill="#1870b5" stroke="#fff" stroke-width="0.5"/>
<ellipse cx="113.29" cy="165.50" rx="2.98" ry="2.42" fill="#1870b5" stroke="#fff" stroke-width="0.5"/>
<ellipse cx="95.96" cy="169.55" rx="2.98" ry="2.42" fill="#1870b5" stroke="#fff" stroke-width="0.5"/>
<ellipse cx="78.63" cy="228.02" rx="2.98" ry="2.42" fill="#1870b5" stroke="#fff" stroke-width="0.5"/>
<ellipse cx="165.28" cy="176.65" rx="2.98" ry="2.42" fill="#1870b5" stroke="#fff" stroke-width="0.5"/>
<ellipse cx="199.94" cy="229.55" rx="2.98" ry="2.42" fill="#1870b5" stroke="#fff" stroke-width="0.5"/>
<ellipse cx="199.94" cy="183.21" rx="2.98" ry="2.42" fill="#1870b5" stroke="#fff" stroke-width="0.5"/>
<ellipse cx="182.61" cy="178.07" rx="2.98" ry="2.42" fill="#1870b5" stroke="#fff" stroke-width="0.5"/>
<ellipse cx="95.96" cy="166.60" rx="2.98" ry="2.42" fill="#1870b5" stroke="#fff" stroke-width="0.5"/>
<ellipse cx="147.95" cy="228.35" rx="2.98" ry="2.42" fill="#1870b5" stroke="#fff" stroke-width="0.5"/>
<ellipse cx="113.29" cy="234.04" rx="2.98" ry="2.42" fill="#1870b5" stroke="#fff" stroke-width="0.5"/>
<ellipse cx="147.95" cy="175.78" rx="2.98" ry="2.42" fill="#1870b5" stroke="#fff" stroke-width="0.5"/>
<ellipse cx="165.28" cy="214.03" rx="2.98" ry="2.42" fill="#1870b5" stroke="#fff" stroke-width="0.5"/>
<ellipse cx="182.61" cy="239.83" rx="2.98" ry="2.42" fill="#1870b5" stroke="#fff" stroke-width="0.5"/>
<ellipse cx="147.95" cy="167.25" rx="2.98" ry="2.42" fill="#1870b5" stroke="#fff" stroke-width="0.5"/>
<ellipse cx="182.61" cy="165.50" rx="2.98" ry="2.42" fill="#1870b5" stroke="#fff" stroke-width="0.5"/>
<ellipse cx="147.95" cy="232.94" rx="2.98" ry="2.42" fill="#1870b5" stroke="#fff" stroke-width="0.5"/>
<ellipse cx="78.63" cy="189.00" rx="2.98" ry="2.42" fill="#1870b5" stroke="#fff" stroke-width="0.5"/>
<ellipse cx="130.62" cy="249.77" rx="2.98" ry="2.42" fill="#1870b5" stroke="#fff" stroke-width="0.5"/>
<ellipse cx="61.30" cy="247.81" rx="2.98" ry="2.42" fill="#1870b5" stroke="#fff" stroke-width="0.5"/>
<ellipse cx="113.29" cy="246.71" rx="2.98" ry="2.42" fill="#1870b5" stroke="#fff" stroke-width="0.5"/>
<ellipse cx="130.62" cy="230.65" rx="2.98" ry="2.42" fill="#1870b5" stroke="#fff" stroke-width="0.5"/>
<ellipse cx="130.62" cy="178.62" rx="2.98" ry="2.42" fill="#1870b5" stroke="#fff" stroke-width="0.5"/>
<ellipse cx="95.96" cy="228.35" rx="2.98" ry="2.42" fill="#1870b5" stroke="#fff" stroke-width="0.5"/>
<ellipse cx="113.29" cy="231.19" rx="2.98" ry="2.42" fill="#1870b5" stroke="#fff" stroke-width="0.5"/>
<ellipse cx="78.63" cy="184.41" rx="2.98" ry="2.42" fill="#1870b5" stroke="#fff" stroke-width="0.5"/>
<ellipse cx="113.29" cy="211.19" rx="2.98" ry="2.42" fill="#1870b5" stroke="#fff" stroke-width="0.5"/>
<ellipse cx="61.30" cy="202.67" rx="2.98" ry="2.42" fill="#1870b5" stroke="#fff" stroke-width="0.5"/>
<ellipse cx="165.28" cy="211.19" rx="2.98" ry="2.42" fill="#1870b5" stroke="#fff" stroke-width="0.5"/>
<ellipse cx="95.96" cy="243.87" rx="2.98" ry="2.42" fill="#1870b5" stroke="#fff" stroke-width="0.5"/>
<ellipse cx="78.63" cy="253.60" rx="2.98" ry="2.42" fill="#1870b5" stroke="#fff" stroke-width="0.5"/>
<ellipse cx="199.94" cy="220.37" rx="2.98" ry="2.42" fill="#1870b5" stroke="#fff" stroke-width="0.5"/>
<ellipse cx="182.61" cy="250.10" rx="2.98" ry="2.42" fill="#1870b5" stroke="#fff" stroke-width="0.5"/>
<ellipse cx="130.62" cy="210.86" rx="2.98" ry="2.42" fill="#1870b5" stroke="#fff" stroke-width="0.5"/>
<ellipse cx="182.61" cy="189.00" rx="2.98" ry="2.42" fill="#1870b5" stroke="#fff" stroke-width="0.5"/>
<ellipse cx="113.29" cy="204.96" rx="2.98" ry="2.42" fill="#1870b5" stroke="#fff" stroke-width="0.5"/>
<ellipse cx="95.96" cy="152.28" rx="2.98" ry="2.42" fill="#1870b5" stroke="#fff" stroke-width="0.5"/>
<ellipse cx="61.30" cy="236.33" rx="2.98" ry="2.42" fill="#1870b5" stroke="#fff" stroke-width="0.5"/>
<ellipse cx="113.29" cy="223.76" rx="2.98" ry="2.42" fill="#1870b5" stroke="#fff" stroke-width="0.5"/>
<ellipse cx="78.63" cy="149.44" rx="2.98" ry="2.42" fill="#1870b5" stroke="#fff" stroke-width="0.5"/>
<ellipse cx="78.63" cy="238.30" rx="2.98" ry="2.42" fill="#1870b5" stroke="#fff" stroke-width="0.5"/>
<ellipse cx="61.30" cy="231.85" rx="2.98" ry="2.42" fill="#1870b5" stroke="#fff" stroke-width="0.5"/>
<ellipse cx="147.95" cy="252.40" rx="2.98" ry="2.42" fill="#1870b5" stroke="#fff" stroke-width="0.5"/>
<ellipse cx="199.94" cy="234.04" rx="2.98" ry="2.42" fill="#1870b5" stroke="#fff" stroke-width="0.5"/>
<ellipse cx="147.95" cy="202.12" rx="2.98" ry="2.42" fill="#1870b5" stroke="#fff" stroke-width="0.5"/>
<ellipse cx="199.94" cy="212.72" rx="2.98" ry="2.42" fill="#1870b5" stroke="#fff" stroke-width="0.5"/>
<ellipse cx="61.30" cy="153.48" rx="2.98" ry="2.42" fill="#1870b5" stroke="#fff" stroke-width="0.5"/>
<ellipse cx="182.61" cy="167.25" rx="2.98" ry="2.42" fill="#1870b5" stroke="#fff" stroke-width="0.5"/>
<ellipse cx="61.30" cy="185.51" rx="2.98" ry="2.42" fill="#1870b5" stroke="#fff" stroke-width="0.5"/>
<ellipse cx="61.30" cy="195.89" rx="2.98" ry="2.42" fill="#1870b5" stroke="#fff" stroke-width="0.5"/>
<ellipse cx="130.62" cy="170.64" rx="2.98" ry="2.42" fill="#1870b5" stroke="#fff" stroke-width="0.5"/>
<ellipse cx="95.96" cy="216.88" rx="2.98" ry="2.42" fill="#1870b5" stroke="#fff" stroke-width="0.5"/>
<ellipse cx="61.30" cy="245.51" rx="2.98" ry="2.42" fill="#1870b5" stroke="#fff" stroke-width="0.5"/>
<ellipse cx="78.63" cy="161.46" rx="2.98" ry="2.42" fill="#1870b5" stroke="#fff" stroke-width="0.5"/>
<ellipse cx="61.30" cy="208.35" rx="2.98" ry="2.42" fill="#1870b5" stroke="#fff" stroke-width="0.5"/>
<ellipse cx="182.61" cy="172.94" rx="2.98" ry="2.42" fill="#1870b5" stroke="#fff" stroke-width="0.5"/>
<ellipse cx="78.63" cy="156.87" rx="2.98" ry="2.42" fill="#1870b5" stroke="#fff" stroke-width="0.5"/>
<ellipse cx="130.62" cy="162.66" rx="2.98" ry="2.42" fill="#1870b5" stroke="#fff" stroke-width="0.5"/>
<ellipse cx="61.30" cy="175.78" rx="2.98" ry="2.42" fill="#1870b5" stroke="#fff" stroke-width="0.5"/>
<ellipse cx="95.96" cy="182.66" rx="2.98" ry="2.42" fill="#1870b5" stroke="#fff" stroke-width="0.5"/>
<ellipse cx="95.96" cy="191.30" rx="2.98" ry="2.42" fill="#1870b5" stroke="#fff" stroke-width="0.5"/>
<ellipse cx="61.30" cy="199.28" rx="2.98" ry="2.42" fill="#1870b5" stroke="#fff" stroke-width="0.5"/>
<ellipse cx="165.28" cy="232.94" rx="2.98" ry="2.42" fill="#1870b5" stroke="#fff" stroke-width="0.5"/>
<ellipse cx="165.28" cy="198.73" rx="2.98" ry="2.42" fill="#1870b5" stroke="#fff" stroke-width="0.5"/>
<ellipse cx="95.96" cy="178.07" rx="2.98" ry="2.42" fill="#1870b5" stroke="#fff" stroke-width="0.5"/>
<ellipse cx="165.28" cy="151.19" rx="2.98" ry="2.42" fill="#1870b5" stroke="#fff" stroke-width="0.5"/>
<ellipse cx="113.29" cy="162.12" rx="2.98" ry="2.42" fill="#1870b5" stroke="#fff" stroke-width="0.5"/>
<ellipse cx="199.94" cy="244.97" rx="2.98" ry="2.42" fill="#1870b5" stroke="#fff" stroke-width="0.5"/>
<ellipse cx="78.63" cy="201.03" rx="2.98" ry="2.42" fill="#1870b5" stroke="#fff" stroke-width="0.5"/>
<ellipse cx="199.94" cy="178.07" rx="2.98" ry="2.42" fill="#1870b5" stroke="#fff" stroke-width="0.5"/>
<ellipse cx="95.96" cy="149.00" rx="2.98" ry="2.42" fill="#1870b5" stroke="#fff" stroke-width="0.5"/>
<ellipse cx="78.63" cy="181.57" rx="2.98" ry="2.42" fill="#1870b5" stroke="#fff" stroke-width="0.5"/>
<ellipse cx="113.29" cy="156.32" rx="2.98" ry="2.42" fill="#1870b5" stroke="#fff" stroke-width="0.5"/>
<ellipse cx="78.63" cy="212.72" rx="2.98" ry="2.42" fill="#1870b5" stroke="#fff" stroke-width="0.5"/>
<ellipse cx="130.62" cy="199.82" rx="2.98" ry="2.42" fill="#1870b5" stroke="#fff" stroke-width="0.5"/>
<ellipse cx="182.61" cy="195.23" rx="2.98" ry="2.42" fill="#1870b5" stroke="#fff" stroke-width="0.5"/>
<ellipse cx="95.96" cy="187.25" rx="2.98" ry="2.42" fill="#1870b5" stroke="#fff" stroke-width="0.5"/>
<ellipse cx="78.63" cy="248.35" rx="2.98" ry="2.42" fill="#1870b5" stroke="#fff" stroke-width="0.5"/>
<ellipse cx="165.28" cy="195.89" rx="2.98" ry="2.42" fill="#1870b5" stroke="#fff" stroke-width="0.5"/>
<rect x="54.38" y="143.95" width="0.85" height="119.69" fill="#2a2a2a"/>
<rect x="54.38" y="262.96" width="152.83" height="0.68" fill="#2a2a2a"/>
<rect x="78.13" y="263.30" width="1" height="2.7" fill="#111"/>
<rect x="112.79" y="263.30" width="1" height="2.7" fill="#111"/>
<rect x="147.45" y="263.30" width="1" height="2.7" fill="#111"/>
<rect x="182.11" y="263.30" width="1" height="2.7" fill="#111"/>
<rect x="51.40" y="257.90" width="3.4" height="0.8" fill="#111"/>
<rect x="51.40" y="236.04" width="3.4" height="0.8" fill="#111"/>
<rect x="51.40" y="214.18" width="3.4" height="0.8" fill="#111"/>
<rect x="51.40" y="192.32" width="3.4" height="0.8" fill="#111"/>
<rect x="51.40" y="170.46" width="3.4" height="0.8" fill="#111"/>
<rect x="51.40" y="148.60" width="3.4" height="0.8" fill="#111"/>
</g>
<g>
<rect x="225.80" y="246.50" width="13.89" height="16.80" fill="#5297cc" stroke="#0a0a14" stroke-width="1"/>
<rect x="239.69" y="254.20" width="13.89" height="9.10" fill="#5297cc" stroke="#0a0a14" stroke-width="1"/>
<rect x="253.58" y="247.30" width="13.89" height="16.00" fill="#5297cc" stroke="#0a0a14" stroke-width="1"/>
<rect x="267.47" y="248.70" width="13.89" height="14.60" fill="#5297cc" stroke="#0a0a14" stroke-width="1"/>
<rect x="281.36" y="249.50" width="13.89" height="13.80" fill="#5297cc" stroke="#0a0a14" stroke-width="1"/>
<rect x="295.25" y="251.30" width="13.89" height="12.00" fill="#5297cc" stroke="#0a0a14" stroke-width="1"/>
<rect x="309.14" y="250.30" width="13.89" height="13.00" fill="#5297cc" stroke="#0a0a14" stroke-width="1"/>
<rect x="323.03" y="251.70" width="13.89" height="11.60" fill="#5297cc" stroke="#0a0a14" stroke-width="1"/>
<rect x="336.92" y="250.30" width="13.89" height="13.00" fill="#5297cc" stroke="#0a0a14" stroke-width="1"/>
<rect x="350.81" y="248.80" width="13.89" height="14.50" fill="#5297cc" stroke="#0a0a14" stroke-width="1"/>
<rect x="219.07" y="143.95" width="0.85" height="119.69" fill="#2a2a2a"/>
<rect x="219.07" y="262.96" width="152.83" height="0.68" fill="#2a2a2a"/>
<rect x="225.30" y="263.30" width="1" height="2.7" fill="#111"/>
<rect x="260.00" y="263.30" width="1" height="2.7" fill="#111"/>
<rect x="294.70" y="263.30" width="1" height="2.7" fill="#111"/>
<rect x="329.40" y="263.30" width="1" height="2.7" fill="#111"/>
<rect x="364.10" y="263.30" width="1" height="2.7" fill="#111"/>
<rect x="216.10" y="257.90" width="3.4" height="0.8" fill="#111"/>
<rect x="216.10" y="236.04" width="3.4" height="0.8" fill="#111"/>
<rect x="216.10" y="214.18" width="3.4" height="0.8" fill="#111"/>
<rect x="216.10" y="192.32" width="3.4" height="0.8" fill="#111"/>
<rect x="216.10" y="170.46" width="3.4" height="0.8" fill="#111"/>
<rect x="216.10" y="148.60" width="3.4" height="0.8" fill="#111"/>
</g>
<g>
<ellipse cx="529.45" cy="219.17" rx="2.98" ry="2.42" fill="#1870b5" stroke="#fff" stroke-width="0.5"/>
<ellipse cx="391.15" cy="208.35" rx="2.98" ry="2.42" fill="#1870b5" stroke="#fff" stroke-width="0.5"/>
<ellipse cx="391.15" cy="236.99" rx="2.98" ry="2.42" fill="#1870b5" stroke="#fff" stroke-width="0.5"/>
<ellipse cx="391.15" cy="159.16" rx="2.98" ry="2.42" fill="#1870b5" stroke="#fff" stroke-width="0.5"/>
<ellipse cx="391.15" cy="254.69" rx="2.98" ry="2.42" fill="#1870b5" stroke="#fff" stroke-width="0.5"/>
<ellipse cx="391.15" cy="150.09" rx="2.98" ry="2.42" fill="#1870b5" stroke="#fff" stroke-width="0.5"/>
<ellipse cx="391.15" cy="252.94" rx="2.98" ry="2.42" fill="#1870b5" stroke="#fff" stroke-width="0.5"/>
<ellipse cx="391.15" cy="197.53" rx="2.98" ry="2.42" fill="#1870b5" stroke="#fff" stroke-width="0.5"/>
<ellipse cx="391.15" cy="221.47" rx="2.98" ry="2.42" fill="#1870b5" stroke="#fff" stroke-width="0.5"/>
<ellipse cx="391.15" cy="179.28" rx="2.98" ry="2.42" fill="#1870b5" stroke="#fff" stroke-width="0.5"/>
<ellipse cx="391.15" cy="211.19" rx="2.98" ry="2.42" fill="#1870b5" stroke="#fff" stroke-width="0.5"/>
<ellipse cx="391.15" cy="224.96" rx="2.98" ry="2.42" fill="#1870b5" stroke="#fff" stroke-width="0.5"/>
<ellipse cx="391.15" cy="155.23" rx="2.98" ry="2.42" fill="#1870b5" stroke="#fff" stroke-width="0.5"/>
<ellipse cx="391.15" cy="236.33" rx="2.98" ry="2.42" fill="#1870b5" stroke="#fff" stroke-width="0.5"/>
<ellipse cx="391.15" cy="199.82" rx="2.98" ry="2.42" fill="#1870b5" stroke="#fff" stroke-width="0.5"/>
<ellipse cx="391.15" cy="170.64" rx="2.98" ry="2.42" fill="#1870b5" stroke="#fff" stroke-width="0.5"/>
<ellipse cx="391.15" cy="231.19" rx="2.98" ry="2.42" fill="#1870b5" stroke="#fff" stroke-width="0.5"/>
<ellipse cx="391.15" cy="204.96" rx="2.98" ry="2.42" fill="#1870b5" stroke="#fff" stroke-width="0.5"/>
<ellipse cx="391.15" cy="153.48" rx="2.98" ry="2.42" fill="#1870b5" stroke="#fff" stroke-width="0.5"/>
<ellipse cx="391.15" cy="253.60" rx="2.98" ry="2.42" fill="#1870b5" stroke="#fff" stroke-width="0.5"/>
<ellipse cx="391.15" cy="154.03" rx="2.98" ry="2.42" fill="#1870b5" stroke="#fff" stroke-width="0.5"/>
<ellipse cx="391.15" cy="156.87" rx="2.98" ry="2.42" fill="#1870b5" stroke="#fff" stroke-width="0.5"/>
<ellipse cx="391.15" cy="163.21" rx="2.98" ry="2.42" fill="#1870b5" stroke="#fff" stroke-width="0.5"/>
<ellipse cx="391.15" cy="244.09" rx="2.98" ry="2.42" fill="#1870b5" stroke="#fff" stroke-width="0.5"/>
<ellipse cx="391.15" cy="186.16" rx="2.98" ry="2.42" fill="#1870b5" stroke="#fff" stroke-width="0.5"/>
<ellipse cx="529.45" cy="244.42" rx="2.98" ry="2.42" fill="#1870b5" stroke="#fff" stroke-width="0.5"/>
<ellipse cx="391.15" cy="194.69" rx="2.98" ry="2.42" fill="#1870b5" stroke="#fff" stroke-width="0.5"/>
<ellipse cx="391.15" cy="166.60" rx="2.98" ry="2.42" fill="#1870b5" stroke="#fff" stroke-width="0.5"/>
<ellipse cx="391.15" cy="163.76" rx="2.98" ry="2.42" fill="#1870b5" stroke="#fff" stroke-width="0.5"/>
<ellipse cx="391.15" cy="195.23" rx="2.98" ry="2.42" fill="#1870b5" stroke="#fff" stroke-width="0.5"/>
<ellipse cx="391.15" cy="187.80" rx="2.98" ry="2.42" fill="#1870b5" stroke="#fff" stroke-width="0.5"/>
<ellipse cx="391.15" cy="200.92" rx="2.98" ry="2.42" fill="#1870b5" stroke="#fff" stroke-width="0.5"/>
<ellipse cx="529.45" cy="230.65" rx="2.98" ry="2.42" fill="#1870b5" stroke="#fff" stroke-width="0.5"/>
<ellipse cx="391.15" cy="191.85" rx="2.98" ry="2.42" fill="#1870b5" stroke="#fff" stroke-width="0.5"/>
<ellipse cx="391.15" cy="256.44" rx="2.98" ry="2.42" fill="#1870b5" stroke="#fff" stroke-width="0.5"/>
<ellipse cx="529.45" cy="215.24" rx="2.98" ry="2.42" fill="#1870b5" stroke="#fff" stroke-width="0.5"/>
<ellipse cx="391.15" cy="183.21" rx="2.98" ry="2.42" fill="#1870b5" stroke="#fff" stroke-width="0.5"/>
<ellipse cx="391.15" cy="152.28" rx="2.98" ry="2.42" fill="#1870b5" stroke="#fff" stroke-width="0.5"/>
<ellipse cx="391.15" cy="167.80" rx="2.98" ry="2.42" fill="#1870b5" stroke="#fff" stroke-width="0.5"/>
<ellipse cx="391.15" cy="168.89" rx="2.98" ry="2.42" fill="#1870b5" stroke="#fff" stroke-width="0.5"/>
<ellipse cx="391.15" cy="205.51" rx="2.98" ry="2.42" fill="#1870b5" stroke="#fff" stroke-width="0.5"/>
<ellipse cx="529.45" cy="166.05" rx="2.98" ry="2.42" fill="#1870b5" stroke="#fff" stroke-width="0.5"/>
<ellipse cx="391.15" cy="250.65" rx="2.98" ry="2.42" fill="#1870b5" stroke="#fff" stroke-width="0.5"/>
<ellipse cx="391.15" cy="151.73" rx="2.98" ry="2.42" fill="#1870b5" stroke="#fff" stroke-width="0.5"/>
<ellipse cx="391.15" cy="180.37" rx="2.98" ry="2.42" fill="#1870b5" stroke="#fff" stroke-width="0.5"/>
<ellipse cx="391.15" cy="228.90" rx="2.98" ry="2.42" fill="#1870b5" stroke="#fff" stroke-width="0.5"/>
<ellipse cx="529.45" cy="235.78" rx="2.98" ry="2.42" fill="#1870b5" stroke="#fff" stroke-width="0.5"/>
<ellipse cx="391.15" cy="257.97" rx="2.98" ry="2.42" fill="#1870b5" stroke="#fff" stroke-width="0.5"/>
<ellipse cx="391.15" cy="182.66" rx="2.98" ry="2.42" fill="#1870b5" stroke="#fff" stroke-width="0.5"/>
<ellipse cx="391.15" cy="250.10" rx="2.98" ry="2.42" fill="#1870b5" stroke="#fff" stroke-width="0.5"/>
<ellipse cx="391.15" cy="193.59" rx="2.98" ry="2.42" fill="#1870b5" stroke="#fff" stroke-width="0.5"/>
<ellipse cx="391.15" cy="242.67" rx="2.98" ry="2.42" fill="#1870b5" stroke="#fff" stroke-width="0.5"/>
<ellipse cx="391.15" cy="234.04" rx="2.98" ry="2.42" fill="#1870b5" stroke="#fff" stroke-width="0.5"/>
<ellipse cx="529.45" cy="250.65" rx="2.98" ry="2.42" fill="#1870b5" stroke="#fff" stroke-width="0.5"/>
<ellipse cx="391.15" cy="222.67" rx="2.98" ry="2.42" fill="#1870b5" stroke="#fff" stroke-width="0.5"/>
<ellipse cx="391.15" cy="172.39" rx="2.98" ry="2.42" fill="#1870b5" stroke="#fff" stroke-width="0.5"/>
<ellipse cx="391.15" cy="256.22" rx="2.98" ry="2.42" fill="#1870b5" stroke="#fff" stroke-width="0.5"/>
<ellipse cx="391.15" cy="215.24" rx="2.98" ry="2.42" fill="#1870b5" stroke="#fff" stroke-width="0.5"/>
<ellipse cx="391.15" cy="256.99" rx="2.98" ry="2.42" fill="#1870b5" stroke="#fff" stroke-width="0.5"/>
<ellipse cx="391.15" cy="213.49" rx="2.98" ry="2.42" fill="#1870b5" stroke="#fff" stroke-width="0.5"/>
<ellipse cx="391.15" cy="175.23" rx="2.98" ry="2.42" fill="#1870b5" stroke="#fff" stroke-width="0.5"/>
<ellipse cx="391.15" cy="201.79" rx="2.98" ry="2.42" fill="#1870b5" stroke="#fff" stroke-width="0.5"/>
<ellipse cx="391.15" cy="222.01" rx="2.98" ry="2.42" fill="#1870b5" stroke="#fff" stroke-width="0.5"/>
<ellipse cx="391.15" cy="247.26" rx="2.98" ry="2.42" fill="#1870b5" stroke="#fff" stroke-width="0.5"/>
<ellipse cx="391.15" cy="153.70" rx="2.98" ry="2.42" fill="#1870b5" stroke="#fff" stroke-width="0.5"/>
<ellipse cx="529.45" cy="173.48" rx="2.98" ry="2.42" fill="#1870b5" stroke="#fff" stroke-width="0.5"/>
<ellipse cx="391.15" cy="216.88" rx="2.98" ry="2.42" fill="#1870b5" stroke="#fff" stroke-width="0.5"/>
<ellipse cx="391.15" cy="160.91" rx="2.98" ry="2.42" fill="#1870b5" stroke="#fff" stroke-width="0.5"/>
<ellipse cx="391.15" cy="192.94" rx="2.98" ry="2.42" fill="#1870b5" stroke="#fff" stroke-width="0.5"/>
<ellipse cx="391.15" cy="243.22" rx="2.98" ry="2.42" fill="#1870b5" stroke="#fff" stroke-width="0.5"/>
<ellipse cx="391.15" cy="228.35" rx="2.98" ry="2.42" fill="#1870b5" stroke="#fff" stroke-width="0.5"/>
<ellipse cx="391.15" cy="212.94" rx="2.98" ry="2.42" fill="#1870b5" stroke="#fff" stroke-width="0.5"/>
<ellipse cx="391.15" cy="196.44" rx="2.98" ry="2.42" fill="#1870b5" stroke="#fff" stroke-width="0.5"/>
<ellipse cx="391.15" cy="155.78" rx="2.98" ry="2.42" fill="#1870b5" stroke="#fff" stroke-width="0.5"/>
<ellipse cx="529.45" cy="255.02" rx="2.98" ry="2.42" fill="#1870b5" stroke="#fff" stroke-width="0.5"/>
<ellipse cx="391.15" cy="170.09" rx="2.98" ry="2.42" fill="#1870b5" stroke="#fff" stroke-width="0.5"/>
<ellipse cx="391.15" cy="211.74" rx="2.98" ry="2.42" fill="#1870b5" stroke="#fff" stroke-width="0.5"/>
<ellipse cx="529.45" cy="183.87" rx="2.98" ry="2.42" fill="#1870b5" stroke="#fff" stroke-width="0.5"/>
<ellipse cx="391.15" cy="220.92" rx="2.98" ry="2.42" fill="#1870b5" stroke="#fff" stroke-width="0.5"/>
<ellipse cx="391.15" cy="235.24" rx="2.98" ry="2.42" fill="#1870b5" stroke="#fff" stroke-width="0.5"/>
<ellipse cx="391.15" cy="249.56" rx="2.98" ry="2.42" fill="#1870b5" stroke="#fff" stroke-width="0.5"/>
<ellipse cx="391.15" cy="195.89" rx="2.98" ry="2.42" fill="#1870b5" stroke="#fff" stroke-width="0.5"/>
<ellipse cx="391.15" cy="225.51" rx="2.98" ry="2.42" fill="#1870b5" stroke="#fff" stroke-width="0.5"/>
<ellipse cx="391.15" cy="240.37" rx="2.98" ry="2.42" fill="#1870b5" stroke="#fff" stroke-width="0.5"/>
<ellipse cx="391.15" cy="194.14" rx="2.98" ry="2.42" fill="#1870b5" stroke="#fff" stroke-width="0.5"/>
<ellipse cx="529.45" cy="175.78" rx="2.98" ry="2.42" fill="#1870b5" stroke="#fff" stroke-width="0.5"/>
<ellipse cx="529.45" cy="155.78" rx="2.98" ry="2.42" fill="#1870b5" stroke="#fff" stroke-width="0.5"/>
<ellipse cx="529.45" cy="158.62" rx="2.98" ry="2.42" fill="#1870b5" stroke="#fff" stroke-width="0.5"/>
<ellipse cx="391.15" cy="205.29" rx="2.98" ry="2.42" fill="#1870b5" stroke="#fff" stroke-width="0.5"/>
<ellipse cx="391.15" cy="165.50" rx="2.98" ry="2.42" fill="#1870b5" stroke="#fff" stroke-width="0.5"/>
<ellipse cx="529.45" cy="169.55" rx="2.98" ry="2.42" fill="#1870b5" stroke="#fff" stroke-width="0.5"/>
<ellipse cx="391.15" cy="228.02" rx="2.98" ry="2.42" fill="#1870b5" stroke="#fff" stroke-width="0.5"/>
<ellipse cx="391.15" cy="176.65" rx="2.98" ry="2.42" fill="#1870b5" stroke="#fff" stroke-width="0.5"/>
<ellipse cx="391.15" cy="229.55" rx="2.98" ry="2.42" fill="#1870b5" stroke="#fff" stroke-width="0.5"/>
<ellipse cx="391.15" cy="178.07" rx="2.98" ry="2.42" fill="#1870b5" stroke="#fff" stroke-width="0.5"/>
<ellipse cx="391.15" cy="175.78" rx="2.98" ry="2.42" fill="#1870b5" stroke="#fff" stroke-width="0.5"/>
<ellipse cx="391.15" cy="214.03" rx="2.98" ry="2.42" fill="#1870b5" stroke="#fff" stroke-width="0.5"/>
<ellipse cx="391.15" cy="239.83" rx="2.98" ry="2.42" fill="#1870b5" stroke="#fff" stroke-width="0.5"/>
<ellipse cx="391.15" cy="167.25" rx="2.98" ry="2.42" fill="#1870b5" stroke="#fff" stroke-width="0.5"/>
<ellipse cx="391.15" cy="232.94" rx="2.98" ry="2.42" fill="#1870b5" stroke="#fff" stroke-width="0.5"/>
<ellipse cx="391.15" cy="189.00" rx="2.98" ry="2.42" fill="#1870b5" stroke="#fff" stroke-width="0.5"/>
<ellipse cx="391.15" cy="249.77" rx="2.98" ry="2.42" fill="#1870b5" stroke="#fff" stroke-width="0.5"/>
<ellipse cx="529.45" cy="247.81" rx="2.98" ry="2.42" fill="#1870b5" stroke="#fff" stroke-width="0.5"/>
<ellipse cx="391.15" cy="246.71" rx="2.98" ry="2.42" fill="#1870b5" stroke="#fff" stroke-width="0.5"/>
<ellipse cx="391.15" cy="230.65" rx="2.98" ry="2.42" fill="#1870b5" stroke="#fff" stroke-width="0.5"/>
<ellipse cx="529.45" cy="178.62" rx="2.98" ry="2.42" fill="#1870b5" stroke="#fff" stroke-width="0.5"/>
<ellipse cx="529.45" cy="228.35" rx="2.98" ry="2.42" fill="#1870b5" stroke="#fff" stroke-width="0.5"/>
<ellipse cx="391.15" cy="184.41" rx="2.98" ry="2.42" fill="#1870b5" stroke="#fff" stroke-width="0.5"/>
<ellipse cx="391.15" cy="202.67" rx="2.98" ry="2.42" fill="#1870b5" stroke="#fff" stroke-width="0.5"/>
<ellipse cx="391.15" cy="243.87" rx="2.98" ry="2.42" fill="#1870b5" stroke="#fff" stroke-width="0.5"/>
<ellipse cx="391.15" cy="220.37" rx="2.98" ry="2.42" fill="#1870b5" stroke="#fff" stroke-width="0.5"/>
<ellipse cx="391.15" cy="210.86" rx="2.98" ry="2.42" fill="#1870b5" stroke="#fff" stroke-width="0.5"/>
<ellipse cx="529.45" cy="189.00" rx="2.98" ry="2.42" fill="#1870b5" stroke="#fff" stroke-width="0.5"/>
<ellipse cx="529.45" cy="152.28" rx="2.98" ry="2.42" fill="#1870b5" stroke="#fff" stroke-width="0.5"/>
<ellipse cx="529.45" cy="223.76" rx="2.98" ry="2.42" fill="#1870b5" stroke="#fff" stroke-width="0.5"/>
<ellipse cx="391.15" cy="149.44" rx="2.98" ry="2.42" fill="#1870b5" stroke="#fff" stroke-width="0.5"/>
<ellipse cx="391.15" cy="238.30" rx="2.98" ry="2.42" fill="#1870b5" stroke="#fff" stroke-width="0.5"/>
<ellipse cx="391.15" cy="231.85" rx="2.98" ry="2.42" fill="#1870b5" stroke="#fff" stroke-width="0.5"/>
<ellipse cx="391.15" cy="252.40" rx="2.98" ry="2.42" fill="#1870b5" stroke="#fff" stroke-width="0.5"/>
<ellipse cx="529.45" cy="202.12" rx="2.98" ry="2.42" fill="#1870b5" stroke="#fff" stroke-width="0.5"/>
<ellipse cx="529.45" cy="212.72" rx="2.98" ry="2.42" fill="#1870b5" stroke="#fff" stroke-width="0.5"/>
<ellipse cx="391.15" cy="185.51" rx="2.98" ry="2.42" fill="#1870b5" stroke="#fff" stroke-width="0.5"/>
<ellipse cx="391.15" cy="245.51" rx="2.98" ry="2.42" fill="#1870b5" stroke="#fff" stroke-width="0.5"/>
<ellipse cx="391.15" cy="161.46" rx="2.98" ry="2.42" fill="#1870b5" stroke="#fff" stroke-width="0.5"/>
<ellipse cx="391.15" cy="172.94" rx="2.98" ry="2.42" fill="#1870b5" stroke="#fff" stroke-width="0.5"/>
<ellipse cx="391.15" cy="162.66" rx="2.98" ry="2.42" fill="#1870b5" stroke="#fff" stroke-width="0.5"/>
<ellipse cx="391.15" cy="191.30" rx="2.98" ry="2.42" fill="#1870b5" stroke="#fff" stroke-width="0.5"/>
<ellipse cx="391.15" cy="199.28" rx="2.98" ry="2.42" fill="#1870b5" stroke="#fff" stroke-width="0.5"/>
<ellipse cx="391.15" cy="198.73" rx="2.98" ry="2.42" fill="#1870b5" stroke="#fff" stroke-width="0.5"/>
<ellipse cx="391.15" cy="151.19" rx="2.98" ry="2.42" fill="#1870b5" stroke="#fff" stroke-width="0.5"/>
<ellipse cx="529.45" cy="162.12" rx="2.98" ry="2.42" fill="#1870b5" stroke="#fff" stroke-width="0.5"/>
<ellipse cx="391.15" cy="244.97" rx="2.98" ry="2.42" fill="#1870b5" stroke="#fff" stroke-width="0.5"/>
<ellipse cx="391.15" cy="201.03" rx="2.98" ry="2.42" fill="#1870b5" stroke="#fff" stroke-width="0.5"/>
<ellipse cx="391.15" cy="149.00" rx="2.98" ry="2.42" fill="#1870b5" stroke="#fff" stroke-width="0.5"/>
<ellipse cx="529.45" cy="181.57" rx="2.98" ry="2.42" fill="#1870b5" stroke="#fff" stroke-width="0.5"/>
<ellipse cx="391.15" cy="156.32" rx="2.98" ry="2.42" fill="#1870b5" stroke="#fff" stroke-width="0.5"/>
<ellipse cx="391.15" cy="212.72" rx="2.98" ry="2.42" fill="#1870b5" stroke="#fff" stroke-width="0.5"/>
<ellipse cx="391.15" cy="187.25" rx="2.98" ry="2.42" fill="#1870b5" stroke="#fff" stroke-width="0.5"/>
<ellipse cx="391.15" cy="248.35" rx="2.98" ry="2.42" fill="#1870b5" stroke="#fff" stroke-width="0.5"/>
<ellipse cx="529.45" cy="195.89" rx="2.98" ry="2.42" fill="#1870b5" stroke="#fff" stroke-width="0.5"/>
<rect x="383.57" y="143.95" width="0.85" height="119.69" fill="#2a2a2a"/>
<rect x="383.57" y="262.96" width="152.83" height="0.68" fill="#2a2a2a"/>
<rect x="390.65" y="263.30" width="1" height="2.7" fill="#111"/>
<rect x="425.22" y="263.30" width="1" height="2.7" fill="#111"/>
<rect x="459.80" y="263.30" width="1" height="2.7" fill="#111"/>
<rect x="494.38" y="263.30" width="1" height="2.7" fill="#111"/>
<rect x="528.95" y="263.30" width="1" height="2.7" fill="#111"/>
<rect x="380.60" y="257.90" width="3.4" height="0.8" fill="#111"/>
<rect x="380.60" y="236.04" width="3.4" height="0.8" fill="#111"/>
<rect x="380.60" y="214.18" width="3.4" height="0.8" fill="#111"/>
<rect x="380.60" y="192.32" width="3.4" height="0.8" fill="#111"/>
<rect x="380.60" y="170.46" width="3.4" height="0.8" fill="#111"/>
<rect x="380.60" y="148.60" width="3.4" height="0.8" fill="#111"/>
</g>
<g>
<ellipse cx="95.96" cy="275.10" rx="2.98" ry="2.42" fill="#1870b5" stroke="#fff" stroke-width="0.5"/>
<ellipse cx="165.28" cy="383.80" rx="2.98" ry="2.42" fill="#1870b5" stroke="#fff" stroke-width="0.5"/>
<ellipse cx="113.29" cy="383.80" rx="2.98" ry="2.42" fill="#1870b5" stroke="#fff" stroke-width="0.5"/>
<ellipse cx="147.95" cy="383.80" rx="2.98" ry="2.42" fill="#1870b5" stroke="#fff" stroke-width="0.5"/>
<ellipse cx="61.30" cy="383.80" rx="2.98" ry="2.42" fill="#1870b5" stroke="#fff" stroke-width="0.5"/>
<ellipse cx="182.61" cy="383.80" rx="2.98" ry="2.42" fill="#1870b5" stroke="#fff" stroke-width="0.5"/>
<ellipse cx="95.96" cy="383.80" rx="2.98" ry="2.42" fill="#1870b5" stroke="#fff" stroke-width="0.5"/>
<ellipse cx="199.94" cy="383.80" rx="2.98" ry="2.42" fill="#1870b5" stroke="#fff" stroke-width="0.5"/>
<ellipse cx="130.62" cy="383.80" rx="2.98" ry="2.42" fill="#1870b5" stroke="#fff" stroke-width="0.5"/>
<ellipse cx="165.28" cy="275.10" rx="2.98" ry="2.42" fill="#1870b5" stroke="#fff" stroke-width="0.5"/>
<ellipse cx="147.95" cy="275.10" rx="2.98" ry="2.42" fill="#1870b5" stroke="#fff" stroke-width="0.5"/>
<ellipse cx="182.61" cy="275.10" rx="2.98" ry="2.42" fill="#1870b5" stroke="#fff" stroke-width="0.5"/>
<ellipse cx="78.63" cy="383.80" rx="2.98" ry="2.42" fill="#1870b5" stroke="#fff" stroke-width="0.5"/>
<ellipse cx="78.63" cy="275.10" rx="2.98" ry="2.42" fill="#1870b5" stroke="#fff" stroke-width="0.5"/>
<ellipse cx="130.62" cy="275.10" rx="2.98" ry="2.42" fill="#1870b5" stroke="#fff" stroke-width="0.5"/>
<ellipse cx="61.30" cy="275.10" rx="2.98" ry="2.42" fill="#1870b5" stroke="#fff" stroke-width="0.5"/>
<ellipse cx="199.94" cy="275.10" rx="2.98" ry="2.42" fill="#1870b5" stroke="#fff" stroke-width="0.5"/>
<ellipse cx="113.29" cy="275.10" rx="2.98" ry="2.42" fill="#1870b5" stroke="#fff" stroke-width="0.5"/>
<rect x="54.38" y="269.80" width="0.85" height="119.69" fill="#2a2a2a"/>
<rect x="54.38" y="388.81" width="152.83" height="0.68" fill="#2a2a2a"/>
<rect x="78.13" y="389.15" width="1" height="2.7" fill="#111"/>
<rect x="112.79" y="389.15" width="1" height="2.7" fill="#111"/>
<rect x="147.45" y="389.15" width="1" height="2.7" fill="#111"/>
<rect x="182.11" y="389.15" width="1" height="2.7" fill="#111"/>
<rect x="51.40" y="383.40" width="3.4" height="0.8" fill="#111"/>
<rect x="51.40" y="361.66" width="3.4" height="0.8" fill="#111"/>
<rect x="51.40" y="339.92" width="3.4" height="0.8" fill="#111"/>
<rect x="51.40" y="318.18" width="3.4" height="0.8" fill="#111"/>
<rect x="51.40" y="296.44" width="3.4" height="0.8" fill="#111"/>
<rect x="51.40" y="274.70" width="3.4" height="0.8" fill="#111"/>
</g>
<g>
<ellipse cx="275.49" cy="275.10" rx="2.98" ry="2.42" fill="#1870b5" stroke="#fff" stroke-width="0.5"/>
<ellipse cx="289.23" cy="383.80" rx="2.98" ry="2.42" fill="#1870b5" stroke="#fff" stroke-width="0.5"/>
<ellipse cx="252.87" cy="383.80" rx="2.98" ry="2.42" fill="#1870b5" stroke="#fff" stroke-width="0.5"/>
<ellipse cx="351.69" cy="383.80" rx="2.98" ry="2.42" fill="#1870b5" stroke="#fff" stroke-width="0.5"/>
<ellipse cx="230.38" cy="383.80" rx="2.98" ry="2.42" fill="#1870b5" stroke="#fff" stroke-width="0.5"/>
<ellipse cx="363.21" cy="383.80" rx="2.98" ry="2.42" fill="#1870b5" stroke="#fff" stroke-width="0.5"/>
<ellipse cx="232.60" cy="383.80" rx="2.98" ry="2.42" fill="#1870b5" stroke="#fff" stroke-width="0.5"/>
<ellipse cx="302.97" cy="383.80" rx="2.98" ry="2.42" fill="#1870b5" stroke="#fff" stroke-width="0.5"/>
<ellipse cx="272.58" cy="383.80" rx="2.98" ry="2.42" fill="#1870b5" stroke="#fff" stroke-width="0.5"/>
<ellipse cx="326.15" cy="383.80" rx="2.98" ry="2.42" fill="#1870b5" stroke="#fff" stroke-width="0.5"/>
<ellipse cx="285.62" cy="383.80" rx="2.98" ry="2.42" fill="#1870b5" stroke="#fff" stroke-width="0.5"/>
<ellipse cx="268.13" cy="383.80" rx="2.98" ry="2.42" fill="#1870b5" stroke="#fff" stroke-width="0.5"/>
<ellipse cx="356.69" cy="383.80" rx="2.98" ry="2.42" fill="#1870b5" stroke="#fff" stroke-width="0.5"/>
<ellipse cx="253.70" cy="383.80" rx="2.98" ry="2.42" fill="#1870b5" stroke="#fff" stroke-width="0.5"/>
<ellipse cx="300.06" cy="383.80" rx="2.98" ry="2.42" fill="#1870b5" stroke="#fff" stroke-width="0.5"/>
<ellipse cx="337.12" cy="383.80" rx="2.98" ry="2.42" fill="#1870b5" stroke="#fff" stroke-width="0.5"/>
<ellipse cx="260.22" cy="383.80" rx="2.98" ry="2.42" fill="#1870b5" stroke="#fff" stroke-width="0.5"/>
<ellipse cx="293.53" cy="383.80" rx="2.98" ry="2.42" fill="#1870b5" stroke="#fff" stroke-width="0.5"/>
<ellipse cx="358.91" cy="383.80" rx="2.98" ry="2.42" fill="#1870b5" stroke="#fff" stroke-width="0.5"/>
<ellipse cx="231.77" cy="383.80" rx="2.98" ry="2.42" fill="#1870b5" stroke="#fff" stroke-width="0.5"/>
<ellipse cx="358.22" cy="383.80" rx="2.98" ry="2.42" fill="#1870b5" stroke="#fff" stroke-width="0.5"/>
<ellipse cx="354.61" cy="383.80" rx="2.98" ry="2.42" fill="#1870b5" stroke="#fff" stroke-width="0.5"/>
<ellipse cx="346.56" cy="383.80" rx="2.98" ry="2.42" fill="#1870b5" stroke="#fff" stroke-width="0.5"/>
<ellipse cx="243.84" cy="383.80" rx="2.98" ry="2.42" fill="#1870b5" stroke="#fff" stroke-width="0.5"/>
<ellipse cx="317.41" cy="383.80" rx="2.98" ry="2.42" fill="#1870b5" stroke="#fff" stroke-width="0.5"/>
<ellipse cx="243.43" cy="275.10" rx="2.98" ry="2.42" fill="#1870b5" stroke="#fff" stroke-width="0.5"/>
<ellipse cx="306.58" cy="383.80" rx="2.98" ry="2.42" fill="#1870b5" stroke="#fff" stroke-width="0.5"/>
<ellipse cx="342.25" cy="383.80" rx="2.98" ry="2.42" fill="#1870b5" stroke="#fff" stroke-width="0.5"/>
<ellipse cx="345.86" cy="383.80" rx="2.98" ry="2.42" fill="#1870b5" stroke="#fff" stroke-width="0.5"/>
<ellipse cx="305.89" cy="383.80" rx="2.98" ry="2.42" fill="#1870b5" stroke="#fff" stroke-width="0.5"/>
<ellipse cx="315.33" cy="383.80" rx="2.98" ry="2.42" fill="#1870b5" stroke="#fff" stroke-width="0.5"/>
<ellipse cx="298.67" cy="383.80" rx="2.98" ry="2.42" fill="#1870b5" stroke="#fff" stroke-width="0.5"/>
<ellipse cx="260.92" cy="275.10" rx="2.98" ry="2.42" fill="#1870b5" stroke="#fff" stroke-width="0.5"/>
<ellipse cx="310.19" cy="383.80" rx="2.98" ry="2.42" fill="#1870b5" stroke="#fff" stroke-width="0.5"/>
<ellipse cx="228.16" cy="383.80" rx="2.98" ry="2.42" fill="#1870b5" stroke="#fff" stroke-width="0.5"/>
<ellipse cx="280.49" cy="275.10" rx="2.98" ry="2.42" fill="#1870b5" stroke="#fff" stroke-width="0.5"/>
<ellipse cx="321.16" cy="383.80" rx="2.98" ry="2.42" fill="#1870b5" stroke="#fff" stroke-width="0.5"/>
<ellipse cx="360.44" cy="383.80" rx="2.98" ry="2.42" fill="#1870b5" stroke="#fff" stroke-width="0.5"/>
<ellipse cx="340.73" cy="383.80" rx="2.98" ry="2.42" fill="#1870b5" stroke="#fff" stroke-width="0.5"/>
<ellipse cx="339.34" cy="383.80" rx="2.98" ry="2.42" fill="#1870b5" stroke="#fff" stroke-width="0.5"/>
<ellipse cx="292.84" cy="383.80" rx="2.98" ry="2.42" fill="#1870b5" stroke="#fff" stroke-width="0.5"/>
<ellipse cx="342.95" cy="275.10" rx="2.98" ry="2.42" fill="#1870b5" stroke="#fff" stroke-width="0.5"/>
<ellipse cx="235.52" cy="383.80" rx="2.98" ry="2.42" fill="#1870b5" stroke="#fff" stroke-width="0.5"/>
<ellipse cx="361.13" cy="383.80" rx="2.98" ry="2.42" fill="#1870b5" stroke="#fff" stroke-width="0.5"/>
<ellipse cx="324.76" cy="383.80" rx="2.98" ry="2.42" fill="#1870b5" stroke="#fff" stroke-width="0.5"/>
<ellipse cx="263.14" cy="383.80" rx="2.98" ry="2.42" fill="#1870b5" stroke="#fff" stroke-width="0.5"/>
<ellipse cx="254.39" cy="275.10" rx="2.98" ry="2.42" fill="#1870b5" stroke="#fff" stroke-width="0.5"/>
<ellipse cx="226.22" cy="383.80" rx="2.98" ry="2.42" fill="#1870b5" stroke="#fff" stroke-width="0.5"/>
<ellipse cx="321.85" cy="383.80" rx="2.98" ry="2.42" fill="#1870b5" stroke="#fff" stroke-width="0.5"/>
<ellipse cx="236.21" cy="383.80" rx="2.98" ry="2.42" fill="#1870b5" stroke="#fff" stroke-width="0.5"/>
<ellipse cx="307.97" cy="383.80" rx="2.98" ry="2.42" fill="#1870b5" stroke="#fff" stroke-width="0.5"/>
<ellipse cx="245.65" cy="383.80" rx="2.98" ry="2.42" fill="#1870b5" stroke="#fff" stroke-width="0.5"/>
<ellipse cx="256.61" cy="383.80" rx="2.98" ry="2.42" fill="#1870b5" stroke="#fff" stroke-width="0.5"/>
<ellipse cx="235.52" cy="275.10" rx="2.98" ry="2.42" fill="#1870b5" stroke="#fff" stroke-width="0.5"/>
<ellipse cx="271.05" cy="383.80" rx="2.98" ry="2.42" fill="#1870b5" stroke="#fff" stroke-width="0.5"/>
<ellipse cx="334.90" cy="383.80" rx="2.98" ry="2.42" fill="#1870b5" stroke="#fff" stroke-width="0.5"/>
<ellipse cx="228.44" cy="383.80" rx="2.98" ry="2.42" fill="#1870b5" stroke="#fff" stroke-width="0.5"/>
<ellipse cx="280.49" cy="383.80" rx="2.98" ry="2.42" fill="#1870b5" stroke="#fff" stroke-width="0.5"/>
<ellipse cx="227.47" cy="383.80" rx="2.98" ry="2.42" fill="#1870b5" stroke="#fff" stroke-width="0.5"/>
<ellipse cx="282.71" cy="383.80" rx="2.98" ry="2.42" fill="#1870b5" stroke="#fff" stroke-width="0.5"/>
<ellipse cx="331.29" cy="383.80" rx="2.98" ry="2.42" fill="#1870b5" stroke="#fff" stroke-width="0.5"/>
<ellipse cx="297.56" cy="383.80" rx="2.98" ry="2.42" fill="#1870b5" stroke="#fff" stroke-width="0.5"/>
<ellipse cx="271.88" cy="383.80" rx="2.98" ry="2.42" fill="#1870b5" stroke="#fff" stroke-width="0.5"/>
<ellipse cx="239.82" cy="383.80" rx="2.98" ry="2.42" fill="#1870b5" stroke="#fff" stroke-width="0.5"/>
<ellipse cx="358.63" cy="383.80" rx="2.98" ry="2.42" fill="#1870b5" stroke="#fff" stroke-width="0.5"/>
<ellipse cx="333.51" cy="275.10" rx="2.98" ry="2.42" fill="#1870b5" stroke="#fff" stroke-width="0.5"/>
<ellipse cx="278.41" cy="383.80" rx="2.98" ry="2.42" fill="#1870b5" stroke="#fff" stroke-width="0.5"/>
<ellipse cx="349.47" cy="383.80" rx="2.98" ry="2.42" fill="#1870b5" stroke="#fff" stroke-width="0.5"/>
<ellipse cx="308.80" cy="383.80" rx="2.98" ry="2.42" fill="#1870b5" stroke="#fff" stroke-width="0.5"/>
<ellipse cx="244.95" cy="383.80" rx="2.98" ry="2.42" fill="#1870b5" stroke="#fff" stroke-width="0.5"/>
<ellipse cx="263.83" cy="383.80" rx="2.98" ry="2.42" fill="#1870b5" stroke="#fff" stroke-width="0.5"/>
<ellipse cx="283.40" cy="383.80" rx="2.98" ry="2.42" fill="#1870b5" stroke="#fff" stroke-width="0.5"/>
<ellipse cx="304.36" cy="383.80" rx="2.98" ry="2.42" fill="#1870b5" stroke="#fff" stroke-width="0.5"/>
<ellipse cx="355.99" cy="383.80" rx="2.98" ry="2.42" fill="#1870b5" stroke="#fff" stroke-width="0.5"/>
<ellipse cx="229.96" cy="275.10" rx="2.98" ry="2.42" fill="#1870b5" stroke="#fff" stroke-width="0.5"/>
<ellipse cx="337.81" cy="383.80" rx="2.98" ry="2.42" fill="#1870b5" stroke="#fff" stroke-width="0.5"/>
<ellipse cx="284.93" cy="383.80" rx="2.98" ry="2.42" fill="#1870b5" stroke="#fff" stroke-width="0.5"/>
<ellipse cx="320.32" cy="275.10" rx="2.98" ry="2.42" fill="#1870b5" stroke="#fff" stroke-width="0.5"/>
<ellipse cx="273.27" cy="383.80" rx="2.98" ry="2.42" fill="#1870b5" stroke="#fff" stroke-width="0.5"/>
<ellipse cx="255.09" cy="383.80" rx="2.98" ry="2.42" fill="#1870b5" stroke="#fff" stroke-width="0.5"/>
<ellipse cx="236.90" cy="383.80" rx="2.98" ry="2.42" fill="#1870b5" stroke="#fff" stroke-width="0.5"/>
<ellipse cx="305.05" cy="383.80" rx="2.98" ry="2.42" fill="#1870b5" stroke="#fff" stroke-width="0.5"/>
<ellipse cx="267.44" cy="383.80" rx="2.98" ry="2.42" fill="#1870b5" stroke="#fff" stroke-width="0.5"/>
<ellipse cx="248.56" cy="383.80" rx="2.98" ry="2.42" fill="#1870b5" stroke="#fff" stroke-width="0.5"/>
<ellipse cx="307.28" cy="383.80" rx="2.98" ry="2.42" fill="#1870b5" stroke="#fff" stroke-width="0.5"/>
<ellipse cx="330.59" cy="275.10" rx="2.98" ry="2.42" fill="#1870b5" stroke="#fff" stroke-width="0.5"/>
<ellipse cx="355.99" cy="275.10" rx="2.98" ry="2.42" fill="#1870b5" stroke="#fff" stroke-width="0.5"/>
<ellipse cx="352.39" cy="275.10" rx="2.98" ry="2.42" fill="#1870b5" stroke="#fff" stroke-width="0.5"/>
<ellipse cx="293.12" cy="383.80" rx="2.98" ry="2.42" fill="#1870b5" stroke="#fff" stroke-width="0.5"/>
<ellipse cx="343.64" cy="383.80" rx="2.98" ry="2.42" fill="#1870b5" stroke="#fff" stroke-width="0.5"/>
<ellipse cx="338.51" cy="275.10" rx="2.98" ry="2.42" fill="#1870b5" stroke="#fff" stroke-width="0.5"/>
<ellipse cx="264.25" cy="383.80" rx="2.98" ry="2.42" fill="#1870b5" stroke="#fff" stroke-width="0.5"/>
<ellipse cx="329.48" cy="383.80" rx="2.98" ry="2.42" fill="#1870b5" stroke="#fff" stroke-width="0.5"/>
<ellipse cx="262.30" cy="383.80" rx="2.98" ry="2.42" fill="#1870b5" stroke="#fff" stroke-width="0.5"/>
<ellipse cx="327.68" cy="383.80" rx="2.98" ry="2.42" fill="#1870b5" stroke="#fff" stroke-width="0.5"/>
<ellipse cx="330.59" cy="383.80" rx="2.98" ry="2.42" fill="#1870b5" stroke="#fff" stroke-width="0.5"/>
<ellipse cx="282.01" cy="383.80" rx="2.98" ry="2.42" fill="#1870b5" stroke="#fff" stroke-width="0.5"/>
<ellipse cx="249.26" cy="383.80" rx="2.98" ry="2.42" fill="#1870b5" stroke="#fff" stroke-width="0.5"/>
<ellipse cx="341.42" cy="383.80" rx="2.98" ry="2.42" fill="#1870b5" stroke="#fff" stroke-width="0.5"/>
<ellipse cx="258.00" cy="383.80" rx="2.98" ry="2.42" fill="#1870b5" stroke="#fff" stroke-width="0.5"/>
<ellipse cx="313.80" cy="383.80" rx="2.98" ry="2.42" fill="#1870b5" stroke="#fff" stroke-width="0.5"/>
<ellipse cx="236.63" cy="383.80" rx="2.98" ry="2.42" fill="#1870b5" stroke="#fff" stroke-width="0.5"/>
<ellipse cx="239.12" cy="275.10" rx="2.98" ry="2.42" fill="#1870b5" stroke="#fff" stroke-width="0.5"/>
<ellipse cx="240.51" cy="383.80" rx="2.98" ry="2.42" fill="#1870b5" stroke="#fff" stroke-width="0.5"/>
<ellipse cx="260.92" cy="383.80" rx="2.98" ry="2.42" fill="#1870b5" stroke="#fff" stroke-width="0.5"/>
<ellipse cx="326.99" cy="275.10" rx="2.98" ry="2.42" fill="#1870b5" stroke="#fff" stroke-width="0.5"/>
<ellipse cx="263.83" cy="275.10" rx="2.98" ry="2.42" fill="#1870b5" stroke="#fff" stroke-width="0.5"/>
<ellipse cx="319.63" cy="383.80" rx="2.98" ry="2.42" fill="#1870b5" stroke="#fff" stroke-width="0.5"/>
<ellipse cx="296.45" cy="383.80" rx="2.98" ry="2.42" fill="#1870b5" stroke="#fff" stroke-width="0.5"/>
<ellipse cx="244.12" cy="383.80" rx="2.98" ry="2.42" fill="#1870b5" stroke="#fff" stroke-width="0.5"/>
<ellipse cx="273.96" cy="383.80" rx="2.98" ry="2.42" fill="#1870b5" stroke="#fff" stroke-width="0.5"/>
<ellipse cx="286.04" cy="383.80" rx="2.98" ry="2.42" fill="#1870b5" stroke="#fff" stroke-width="0.5"/>
<ellipse cx="313.80" cy="275.10" rx="2.98" ry="2.42" fill="#1870b5" stroke="#fff" stroke-width="0.5"/>
<ellipse cx="360.44" cy="275.10" rx="2.98" ry="2.42" fill="#1870b5" stroke="#fff" stroke-width="0.5"/>
<ellipse cx="269.66" cy="275.10" rx="2.98" ry="2.42" fill="#1870b5" stroke="#fff" stroke-width="0.5"/>
<ellipse cx="364.04" cy="383.80" rx="2.98" ry="2.42" fill="#1870b5" stroke="#fff" stroke-width="0.5"/>
<ellipse cx="251.20" cy="383.80" rx="2.98" ry="2.42" fill="#1870b5" stroke="#fff" stroke-width="0.5"/>
<ellipse cx="259.39" cy="383.80" rx="2.98" ry="2.42" fill="#1870b5" stroke="#fff" stroke-width="0.5"/>
<ellipse cx="233.30" cy="383.80" rx="2.98" ry="2.42" fill="#1870b5" stroke="#fff" stroke-width="0.5"/>
<ellipse cx="297.14" cy="275.10" rx="2.98" ry="2.42" fill="#1870b5" stroke="#fff" stroke-width="0.5"/>
<ellipse cx="283.68" cy="275.10" rx="2.98" ry="2.42" fill="#1870b5" stroke="#fff" stroke-width="0.5"/>
<ellipse cx="318.24" cy="383.80" rx="2.98" ry="2.42" fill="#1870b5" stroke="#fff" stroke-width="0.5"/>
<ellipse cx="242.04" cy="383.80" rx="2.98" ry="2.42" fill="#1870b5" stroke="#fff" stroke-width="0.5"/>
<ellipse cx="348.78" cy="383.80" rx="2.98" ry="2.42" fill="#1870b5" stroke="#fff" stroke-width="0.5"/>
<ellipse cx="334.20" cy="383.80" rx="2.98" ry="2.42" fill="#1870b5" stroke="#fff" stroke-width="0.5"/>
<ellipse cx="347.25" cy="383.80" rx="2.98" ry="2.42" fill="#1870b5" stroke="#fff" stroke-width="0.5"/>
<ellipse cx="310.88" cy="383.80" rx="2.98" ry="2.42" fill="#1870b5" stroke="#fff" stroke-width="0.5"/>
<ellipse cx="300.75" cy="383.80" rx="2.98" ry="2.42" fill="#1870b5" stroke="#fff" stroke-width="0.5"/>
<ellipse cx="301.45" cy="383.80" rx="2.98" ry="2.42" fill="#1870b5" stroke="#fff" stroke-width="0.5"/>
<ellipse cx="361.82" cy="383.80" rx="2.98" ry="2.42" fill="#1870b5" stroke="#fff" stroke-width="0.5"/>
<ellipse cx="347.94" cy="275.10" rx="2.98" ry="2.42" fill="#1870b5" stroke="#fff" stroke-width="0.5"/>
<ellipse cx="242.73" cy="383.80" rx="2.98" ry="2.42" fill="#1870b5" stroke="#fff" stroke-width="0.5"/>
<ellipse cx="298.53" cy="383.80" rx="2.98" ry="2.42" fill="#1870b5" stroke="#fff" stroke-width="0.5"/>
<ellipse cx="364.60" cy="383.80" rx="2.98" ry="2.42" fill="#1870b5" stroke="#fff" stroke-width="0.5"/>
<ellipse cx="323.24" cy="275.10" rx="2.98" ry="2.42" fill="#1870b5" stroke="#fff" stroke-width="0.5"/>
<ellipse cx="355.30" cy="383.80" rx="2.98" ry="2.42" fill="#1870b5" stroke="#fff" stroke-width="0.5"/>
<ellipse cx="283.68" cy="383.80" rx="2.98" ry="2.42" fill="#1870b5" stroke="#fff" stroke-width="0.5"/>
<ellipse cx="316.02" cy="383.80" rx="2.98" ry="2.42" fill="#1870b5" stroke="#fff" stroke-width="0.5"/>
<ellipse cx="238.43" cy="383.80" rx="2.98" ry="2.42" fill="#1870b5" stroke="#fff" stroke-width="0.5"/>
<ellipse cx="305.05" cy="275.10" rx="2.98" ry="2.42" fill="#1870b5" stroke="#fff" stroke-width="0.5"/>
<rect x="219.07" y="269.80" width="0.85" height="119.69" fill="#2a2a2a"/>
<rect x="219.07" y="388.81" width="152.83" height="0.68" fill="#2a2a2a"/>
<rect x="225.30" y="389.15" width="1" height="2.7" fill="#111"/>
<rect x="260.00" y="389.15" width="1" height="2.7" fill="#111"/>
<rect x="294.70" y="389.15" width="1" height="2.7" fill="#111"/>
<rect x="329.40" y="389.15" width="1" height="2.7" fill="#111"/>
<rect x="364.10" y="389.15" width="1" height="2.7" fill="#111"/>
<rect x="216.10" y="383.40" width="3.4" height="0.8" fill="#111"/>
<rect x="216.10" y="361.66" width="3.4" height="0.8" fill="#111"/>
<rect x="216.10" y="339.92" width="3.4" height="0.8" fill="#111"/>
<rect x="216.10" y="318.18" width="3.4" height="0.8" fill="#111"/>
<rect x="216.10" y="296.44" width="3.4" height="0.8" fill="#111"/>
<rect x="216.10" y="274.70" width="3.4" height="0.8" fill="#111"/>
</g>
<g>
<rect x="390.90" y="275.05" width="13.88" height="114.10" fill="#5297cc" stroke="#0a0a14" stroke-width="1"/>
<rect x="515.82" y="367.10" width="13.88" height="22.05" fill="#5297cc" stroke="#0a0a14" stroke-width="1"/>
<rect x="383.57" y="269.80" width="0.85" height="119.69" fill="#2a2a2a"/>
<rect x="383.57" y="388.81" width="152.83" height="0.68" fill="#2a2a2a"/>
<rect x="390.65" y="389.15" width="1" height="2.7" fill="#111"/>
<rect x="425.22" y="389.15" width="1" height="2.7" fill="#111"/>
<rect x="459.80" y="389.15" width="1" height="2.7" fill="#111"/>
<rect x="494.38" y="389.15" width="1" height="2.7" fill="#111"/>
<rect x="528.95" y="389.15" width="1" height="2.7" fill="#111"/>
<rect x="380.60" y="383.40" width="3.4" height="0.8" fill="#111"/>
<rect x="380.60" y="361.66" width="3.4" height="0.8" fill="#111"/>
<rect x="380.60" y="339.92" width="3.4" height="0.8" fill="#111"/>
<rect x="380.60" y="318.18" width="3.4" height="0.8" fill="#111"/>
<rect x="380.60" y="296.44" width="3.4" height="0.8" fill="#111"/>
<rect x="380.60" y="274.70" width="3.4" height="0.8" fill="#111"/>
</g>
<text transform="translate(48.00 121.83) scale(0.66 0.59)" text-anchor="end" font-size="13.89" fill="#1a1a1a" stroke="#1a1a1a" stroke-width="0.4">2</text>
<text transform="translate(48.00 94.70) scale(0.66 0.59)" text-anchor="end" font-size="13.89" fill="#1a1a1a" stroke="#1a1a1a" stroke-width="0.4">4</text>
<text transform="translate(48.00 67.56) scale(0.66 0.59)" text-anchor="end" font-size="13.89" fill="#1a1a1a" stroke="#1a1a1a" stroke-width="0.4">6</text>
<text transform="translate(48.00 40.43) scale(0.66 0.59)" text-anchor="end" font-size="13.89" fill="#1a1a1a" stroke="#1a1a1a" stroke-width="0.4">8</text>
<text transform="translate(33.50 78.78) scale(0.72 0.556) rotate(-90)" text-anchor="middle" font-size="13.89" fill="#1a1a1a" stroke="#1a1a1a" stroke-width="0.4">Device ID</text>
<text transform="translate(45.60 261.50) scale(0.66 0.59)" text-anchor="end" font-size="13.89" fill="#1a1a1a" stroke="#1a1a1a" stroke-width="0.4">0</text>
<text transform="translate(45.60 239.64) scale(0.66 0.59)" text-anchor="end" font-size="13.89" fill="#1a1a1a" stroke="#1a1a1a" stroke-width="0.4">20</text>
<text transform="translate(45.60 217.78) scale(0.66 0.59)" text-anchor="end" font-size="13.89" fill="#1a1a1a" stroke="#1a1a1a" stroke-width="0.4">40</text>
<text transform="translate(45.60 195.92) scale(0.66 0.59)" text-anchor="end" font-size="13.89" fill="#1a1a1a" stroke="#1a1a1a" stroke-width="0.4">60</text>
<text transform="translate(45.60 174.06) scale(0.66 0.59)" text-anchor="end" font-size="13.89" fill="#1a1a1a" stroke="#1a1a1a" stroke-width="0.4">80</text>
<text transform="translate(45.60 152.20) scale(0.66 0.59)" text-anchor="end" font-size="13.89" fill="#1a1a1a" stroke="#1a1a1a" stroke-width="0.4">100</text>
<text transform="translate(20.70 204.62) scale(0.72 0.556) rotate(-90)" text-anchor="middle" font-size="13.89" fill="#1a1a1a" stroke="#1a1a1a" stroke-width="0.4">Sensor Reading</text>
<text transform="translate(45.80 387.00) scale(0.66 0.59)" text-anchor="end" font-size="13.89" fill="#1a1a1a" stroke="#1a1a1a" stroke-width="0.4">0.0</text>
<text transform="translate(45.80 365.26) scale(0.66 0.59)" text-anchor="end" font-size="13.89" fill="#1a1a1a" stroke="#1a1a1a" stroke-width="0.4">0.2</text>
<text transform="translate(45.80 343.52) scale(0.66 0.59)" text-anchor="end" font-size="13.89" fill="#1a1a1a" stroke="#1a1a1a" stroke-width="0.4">0.4</text>
<text transform="translate(45.80 321.78) scale(0.66 0.59)" text-anchor="end" font-size="13.89" fill="#1a1a1a" stroke="#1a1a1a" stroke-width="0.4">0.6</text>
<text transform="translate(45.80 300.04) scale(0.66 0.59)" text-anchor="end" font-size="13.89" fill="#1a1a1a" stroke="#1a1a1a" stroke-width="0.4">0.8</text>
<text transform="translate(45.80 278.30) scale(0.66 0.59)" text-anchor="end" font-size="13.89" fill="#1a1a1a" stroke="#1a1a1a" stroke-width="0.4">1.0</text>
<text transform="translate(24.40 330.48) scale(0.72 0.556) rotate(-90)" text-anchor="middle" font-size="13.89" fill="#1a1a1a" stroke="#1a1a1a" stroke-width="0.4">Label</text>
<text transform="translate(78.93 400.60) scale(0.665 0.63)" text-anchor="middle" font-size="13.89" fill="#1a1a1a" stroke="#1a1a1a" stroke-width="0.4">2</text>
<text transform="translate(113.59 400.60) scale(0.665 0.63)" text-anchor="middle" font-size="13.89" fill="#1a1a1a" stroke="#1a1a1a" stroke-width="0.4">4</text>
<text transform="translate(148.25 400.60) scale(0.665 0.63)" text-anchor="middle" font-size="13.89" fill="#1a1a1a" stroke="#1a1a1a" stroke-width="0.4">6</text>
<text transform="translate(182.91 400.60) scale(0.665 0.63)" text-anchor="middle" font-size="13.89" fill="#1a1a1a" stroke="#1a1a1a" stroke-width="0.4">8</text>
<text transform="translate(130.50 411.25) scale(0.728 0.575)" text-anchor="middle" font-size="13.89" fill="#1a1a1a" stroke="#1a1a1a" stroke-width="0.4">Device ID</text>
<text transform="translate(226.10 400.60) scale(0.665 0.63)" text-anchor="middle" font-size="13.89" fill="#1a1a1a" stroke="#1a1a1a" stroke-width="0.4">0</text>
<text transform="translate(260.80 400.60) scale(0.665 0.63)" text-anchor="middle" font-size="13.89" fill="#1a1a1a" stroke="#1a1a1a" stroke-width="0.4">25</text>
<text transform="translate(295.50 400.60) scale(0.665 0.63)" text-anchor="middle" font-size="13.89" fill="#1a1a1a" stroke="#1a1a1a" stroke-width="0.4">50</text>
<text transform="translate(330.20 400.60) scale(0.665 0.63)" text-anchor="middle" font-size="13.89" fill="#1a1a1a" stroke="#1a1a1a" stroke-width="0.4">75</text>
<text transform="translate(364.90 400.60) scale(0.665 0.63)" text-anchor="middle" font-size="13.89" fill="#1a1a1a" stroke="#1a1a1a" stroke-width="0.4">100</text>
<text transform="translate(295.20 411.25) scale(0.728 0.575)" text-anchor="middle" font-size="13.89" fill="#1a1a1a" stroke="#1a1a1a" stroke-width="0.4">Sensor Reading</text>
<text transform="translate(391.45 400.60) scale(0.665 0.63)" text-anchor="middle" font-size="13.89" fill="#1a1a1a" stroke="#1a1a1a" stroke-width="0.4">0.00</text>
<text transform="translate(426.02 400.60) scale(0.665 0.63)" text-anchor="middle" font-size="13.89" fill="#1a1a1a" stroke="#1a1a1a" stroke-width="0.4">0.25</text>
<text transform="translate(460.60 400.60) scale(0.665 0.63)" text-anchor="middle" font-size="13.89" fill="#1a1a1a" stroke="#1a1a1a" stroke-width="0.4">0.50</text>
<text transform="translate(495.18 400.60) scale(0.665 0.63)" text-anchor="middle" font-size="13.89" fill="#1a1a1a" stroke="#1a1a1a" stroke-width="0.4">0.75</text>
<text transform="translate(529.75 400.60) scale(0.665 0.63)" text-anchor="middle" font-size="13.89" fill="#1a1a1a" stroke="#1a1a1a" stroke-width="0.4">1.00</text>
<text transform="translate(459.70 411.25) scale(0.728 0.575)" text-anchor="middle" font-size="13.89" fill="#1a1a1a" stroke="#1a1a1a" stroke-width="0.4">Label</text>
</svg>
</body></html>
